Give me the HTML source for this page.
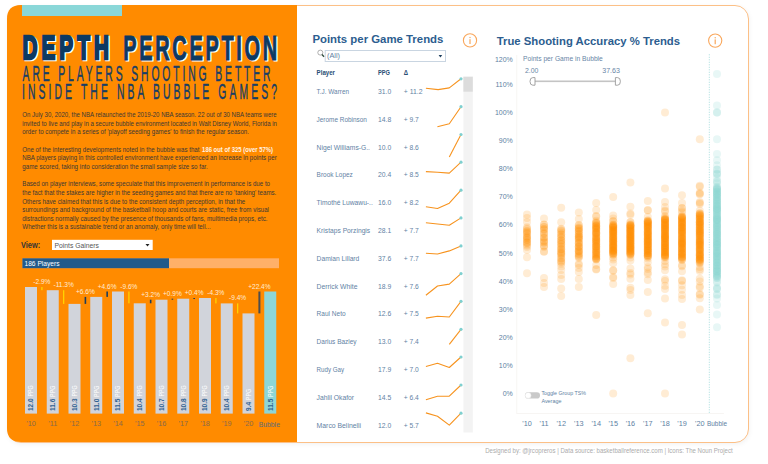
<!DOCTYPE html>
<html><head><meta charset="utf-8"><style>
html,body{margin:0;padding:0;width:768px;height:464px;overflow:hidden;background:#fff}
svg{display:block}
text{font-family:"Liberation Sans",sans-serif}
</style></head><body>
<svg width="768" height="464" viewBox="0 0 768 464">
<rect x="0" y="0" width="768" height="464" fill="#ffffff"/>
<defs><filter id="sh" x="-5%" y="-5%" width="110%" height="110%"><feGaussianBlur stdDeviation="2"/></filter></defs>
<rect x="7.5" y="6.5" width="742" height="438" rx="14" fill="#000" fill-opacity="0.05" filter="url(#sh)"/>
<rect x="7.5" y="5.5" width="741" height="437" rx="13.5" ry="13.5" fill="#ffffff" stroke="#FCC087" stroke-width="1"/>
<path d="M297 5 L21 5 Q7 5 7 19 L7 428 Q7 442 21 442 L297 442 Z" fill="#FF8B00"/>
<rect x="22" y="5" width="100" height="11" fill="#8AD7D8"/>
<g transform="translate(23.9,60.2) scale(0.61,1)"><text x="0" y="0" font-size="34" fill="#ffffff" font-weight="bold" stroke="#ffffff" stroke-width="2.6" stroke-linejoin="miter" textLength="141.80" lengthAdjust="spacing" >DEPTH</text></g>
<g transform="translate(124.7,61.1) scale(0.555,1)"><text x="0" y="0" font-size="36" fill="#ffffff" font-weight="bold" stroke="#ffffff" stroke-width="1.1" stroke-linejoin="miter" textLength="277.48" lengthAdjust="spacing" >PERCEPTION</text></g>
<g transform="translate(22.4,58.7) scale(0.61,1)"><text x="0" y="0" font-size="34" fill="#0D3A62" font-weight="bold" stroke="#0D3A62" stroke-width="2.6" stroke-linejoin="miter" textLength="141.80" lengthAdjust="spacing" >DEPTH</text></g>
<g transform="translate(123.2,59.6) scale(0.555,1)"><text x="0" y="0" font-size="36" fill="#0D3A62" font-weight="bold" stroke="#0D3A62" stroke-width="1.1" stroke-linejoin="miter" textLength="277.48" lengthAdjust="spacing" >PERCEPTION</text></g>
<g transform="translate(22.6,81.3) scale(0.48,1)"><text x="0" y="0" font-size="21.6" fill="#173E66" stroke="#173E66" stroke-width="0.45" stroke-linejoin="round" textLength="516.67" lengthAdjust="spacing" >ARE PLAYERS SHOOTING BETTER</text></g>
<g transform="translate(22,98.6) scale(0.48,1)"><text x="0" y="0" font-size="21.6" fill="#173E66" stroke="#173E66" stroke-width="0.45" stroke-linejoin="round" textLength="531.25" lengthAdjust="spacing" >INSIDE THE NBA BUBBLE GAMES?</text></g>
<text x="22.3" y="117.1" font-size="7.6" fill="#3A3836" textLength="254.4" lengthAdjust="spacingAndGlyphs" >On July 30, 2020, the NBA relaunched the 2019-20 NBA season. 22 out of 30 NBA teams were</text>
<text x="22.3" y="125.74" font-size="7.6" fill="#3A3836" textLength="254.7" lengthAdjust="spacingAndGlyphs" >invited to live and play in a secure bubble environment located in Walt Disney World, Florida in</text>
<text x="22.3" y="134.38" font-size="7.6" fill="#3A3836" textLength="226.7" lengthAdjust="spacingAndGlyphs" >order to compete in a series of 'playoff seeding games' to finish the regular season.</text>
<text x="22.3" y="160.3" font-size="7.6" fill="#3A3836" textLength="254.4" lengthAdjust="spacingAndGlyphs" >NBA players playing in this controlled environment have experienced an increase in points per</text>
<text x="22.3" y="168.94" font-size="7.6" fill="#3A3836" textLength="185.5" lengthAdjust="spacingAndGlyphs" >game scored, taking into consideration the small sample size so far.</text>
<text x="22.3" y="186.22" font-size="7.6" fill="#3A3836" textLength="247.7" lengthAdjust="spacingAndGlyphs" >Based on player interviews, some speculate that this improvement in performance is due to</text>
<text x="22.3" y="194.86" font-size="7.6" fill="#3A3836" textLength="254.0" lengthAdjust="spacingAndGlyphs" >the fact that the stakes are higher in the seeding games and that there are no 'tanking' teams.</text>
<text x="22.3" y="203.5" font-size="7.6" fill="#3A3836" textLength="223.0" lengthAdjust="spacingAndGlyphs" >Others have claimed that this is due to the consistent depth perception, in that the</text>
<text x="22.3" y="212.14" font-size="7.6" fill="#3A3836" textLength="246.7" lengthAdjust="spacingAndGlyphs" >surroundings and background of the basketball hoop and courts are static, free from visual</text>
<text x="22.3" y="220.78" font-size="7.6" fill="#3A3836" textLength="245.2" lengthAdjust="spacingAndGlyphs" >distractions normally caused by the presence of thousands of fans, multimedia props, etc.</text>
<text x="22.3" y="229.42" font-size="7.6" fill="#3A3836" textLength="188.4" lengthAdjust="spacingAndGlyphs" >Whether this is a sustainable trend or an anomaly, only time will tell...</text>
<text x="22.3" y="151.66" font-size="7.6" fill="#3A3836" textLength="177.2" lengthAdjust="spacingAndGlyphs" >One of the interesting developments noted in the bubble was that</text>
<text x="202.1" y="151.66" font-size="7.6" fill="#FFF3E6" font-weight="bold" textLength="71" lengthAdjust="spacingAndGlyphs" >186 out of 325 (over 57%)</text>
<text x="21" y="248.3" font-size="8.2" fill="#353535" font-weight="bold" textLength="19.2" lengthAdjust="spacingAndGlyphs" >View:</text>
<rect x="52" y="239.8" width="100.7" height="10.2" fill="#ffffff"/>
<text x="54.6" y="248" font-size="7.6" fill="#555555" textLength="44.3" lengthAdjust="spacingAndGlyphs" >Points Gainers</text>
<path d="M145.5 244 L149.5 244 L147.5 246.5 Z" fill="#222"/>
<rect x="22.4" y="258.3" width="256.6" height="9.9" fill="#FFB068"/>
<rect x="22.4" y="258.3" width="146.6" height="9.9" fill="#215A8A"/>
<text x="24.5" y="266" font-size="7.3" fill="#ffffff" textLength="35" lengthAdjust="spacingAndGlyphs" >186 Players</text>
<rect x="25.00" y="287" width="12" height="126.6" fill="#D1D4DB"/>
<g transform="translate(33.40,411) rotate(-90)"><text x="0" y="0" font-size="6.5" font-weight="bold" fill="#2F6192">12.0</text><text x="14.45" y="0" font-size="6.5" fill="#ffffff" textLength="11.3" lengthAdjust="spacingAndGlyphs">PPG</text></g>
<text x="31.0" y="425.8" font-size="7.3" fill="#8A6A4A" text-anchor="middle" >'10</text>
<rect x="46.75" y="290.2" width="12" height="123.4" fill="#D1D4DB"/>
<g transform="translate(55.15,411) rotate(-90)"><text x="0" y="0" font-size="6.5" font-weight="bold" fill="#2F6192">11.6</text><text x="14.09" y="0" font-size="6.5" fill="#ffffff" textLength="11.3" lengthAdjust="spacingAndGlyphs">PPG</text></g>
<text x="52.75" y="425.8" font-size="7.3" fill="#8A6A4A" text-anchor="middle" >'11</text>
<rect x="68.50" y="303.9" width="12" height="109.7" fill="#D1D4DB"/>
<g transform="translate(76.90,411) rotate(-90)"><text x="0" y="0" font-size="6.5" font-weight="bold" fill="#2F6192">10.3</text><text x="14.45" y="0" font-size="6.5" fill="#ffffff" textLength="11.3" lengthAdjust="spacingAndGlyphs">PPG</text></g>
<text x="74.5" y="425.8" font-size="7.3" fill="#8A6A4A" text-anchor="middle" >'12</text>
<rect x="90.25" y="296.9" width="12" height="116.7" fill="#D1D4DB"/>
<g transform="translate(98.65,411) rotate(-90)"><text x="0" y="0" font-size="6.5" font-weight="bold" fill="#2F6192">11.0</text><text x="14.09" y="0" font-size="6.5" fill="#ffffff" textLength="11.3" lengthAdjust="spacingAndGlyphs">PPG</text></g>
<text x="96.25" y="425.8" font-size="7.3" fill="#8A6A4A" text-anchor="middle" >'13</text>
<rect x="112.00" y="291.5" width="12" height="122.1" fill="#D1D4DB"/>
<g transform="translate(120.40,411) rotate(-90)"><text x="0" y="0" font-size="6.5" font-weight="bold" fill="#2F6192">11.5</text><text x="14.09" y="0" font-size="6.5" fill="#ffffff" textLength="11.3" lengthAdjust="spacingAndGlyphs">PPG</text></g>
<text x="118.0" y="425.8" font-size="7.3" fill="#8A6A4A" text-anchor="middle" >'14</text>
<rect x="133.75" y="303.3" width="12" height="110.3" fill="#D1D4DB"/>
<g transform="translate(142.15,411) rotate(-90)"><text x="0" y="0" font-size="6.5" font-weight="bold" fill="#2F6192">10.4</text><text x="14.45" y="0" font-size="6.5" fill="#ffffff" textLength="11.3" lengthAdjust="spacingAndGlyphs">PPG</text></g>
<text x="139.75" y="425.8" font-size="7.3" fill="#8A6A4A" text-anchor="middle" >'15</text>
<rect x="155.50" y="299.7" width="12" height="113.9" fill="#D1D4DB"/>
<g transform="translate(163.90,411) rotate(-90)"><text x="0" y="0" font-size="6.5" font-weight="bold" fill="#2F6192">10.7</text><text x="14.45" y="0" font-size="6.5" fill="#ffffff" textLength="11.3" lengthAdjust="spacingAndGlyphs">PPG</text></g>
<text x="161.5" y="425.8" font-size="7.3" fill="#8A6A4A" text-anchor="middle" >'16</text>
<rect x="177.25" y="298.7" width="12" height="114.9" fill="#D1D4DB"/>
<g transform="translate(185.65,411) rotate(-90)"><text x="0" y="0" font-size="6.5" font-weight="bold" fill="#2F6192">10.8</text><text x="14.45" y="0" font-size="6.5" fill="#ffffff" textLength="11.3" lengthAdjust="spacingAndGlyphs">PPG</text></g>
<text x="183.25" y="425.8" font-size="7.3" fill="#8A6A4A" text-anchor="middle" >'17</text>
<rect x="199.00" y="298" width="12" height="115.6" fill="#D1D4DB"/>
<g transform="translate(207.40,411) rotate(-90)"><text x="0" y="0" font-size="6.5" font-weight="bold" fill="#2F6192">10.9</text><text x="14.45" y="0" font-size="6.5" fill="#ffffff" textLength="11.3" lengthAdjust="spacingAndGlyphs">PPG</text></g>
<text x="205.0" y="425.8" font-size="7.3" fill="#8A6A4A" text-anchor="middle" >'18</text>
<rect x="220.75" y="303.4" width="12" height="110.2" fill="#D1D4DB"/>
<g transform="translate(229.15,411) rotate(-90)"><text x="0" y="0" font-size="6.5" font-weight="bold" fill="#2F6192">10.4</text><text x="14.45" y="0" font-size="6.5" fill="#ffffff" textLength="11.3" lengthAdjust="spacingAndGlyphs">PPG</text></g>
<text x="226.75" y="425.8" font-size="7.3" fill="#8A6A4A" text-anchor="middle" >'19</text>
<rect x="242.50" y="313.4" width="12" height="100.2" fill="#D1D4DB"/>
<g transform="translate(250.90,411) rotate(-90)"><text x="0" y="0" font-size="6.5" font-weight="bold" fill="#2F6192">9.4</text><text x="10.84" y="0" font-size="6.5" fill="#ffffff" textLength="11.3" lengthAdjust="spacingAndGlyphs">PPG</text></g>
<text x="248.5" y="425.8" font-size="7.3" fill="#8A6A4A" text-anchor="middle" >'20</text>
<rect x="264.25" y="291.5" width="12" height="122.1" fill="#8DD6D7"/>
<g transform="translate(272.65,411) rotate(-90)"><text x="0" y="0" font-size="6.5" font-weight="bold" fill="#2F6192">11.5</text><text x="14.09" y="0" font-size="6.5" fill="#ffffff" textLength="11.3" lengthAdjust="spacingAndGlyphs">PPG</text></g>
<text x="269.3" y="427.2" font-size="7.5" fill="#5A6B7D" textLength="21.3" lengthAdjust="spacingAndGlyphs" text-anchor="middle" >Bubble</text>
<rect x="41.25" y="287" width="1.3" height="3.2" fill="#FFD200"/>
<text x="41.9" y="284.0" font-size="7.6" fill="#FFEBD6" textLength="17.07" lengthAdjust="spacingAndGlyphs" text-anchor="middle" >-2.9%</text>
<rect x="63.00" y="290.2" width="1.3" height="13.7" fill="#FFD200"/>
<text x="63.65" y="287.2" font-size="7.6" fill="#FFEBD6" textLength="20.22" lengthAdjust="spacingAndGlyphs" text-anchor="middle" >-11.3%</text>
<rect x="84.60" y="296.9" width="1.6" height="7.0" fill="#1E3E5C"/>
<text x="85.4" y="293.9" font-size="7.6" fill="#FFEBD6" textLength="18.71" lengthAdjust="spacingAndGlyphs" text-anchor="middle" >+6.6%</text>
<rect x="106.35" y="291.5" width="1.6" height="5.4" fill="#1E3E5C"/>
<text x="107.15" y="288.5" font-size="7.6" fill="#FFEBD6" textLength="18.71" lengthAdjust="spacingAndGlyphs" text-anchor="middle" >+4.6%</text>
<rect x="128.25" y="291.5" width="1.3" height="11.8" fill="#FFD200"/>
<text x="128.9" y="288.5" font-size="7.6" fill="#FFEBD6" textLength="17.07" lengthAdjust="spacingAndGlyphs" text-anchor="middle" >-9.6%</text>
<rect x="149.85" y="299.7" width="1.6" height="3.6" fill="#1E3E5C"/>
<text x="150.65" y="296.7" font-size="7.6" fill="#FFEBD6" textLength="18.71" lengthAdjust="spacingAndGlyphs" text-anchor="middle" >+3.2%</text>
<rect x="171.60" y="298.7" width="1.6" height="1.0" fill="#1E3E5C"/>
<text x="172.4" y="295.7" font-size="7.6" fill="#FFEBD6" textLength="18.71" lengthAdjust="spacingAndGlyphs" text-anchor="middle" >+0.9%</text>
<rect x="193.35" y="298" width="1.6" height="1.0" fill="#1E3E5C"/>
<text x="194.15" y="295.0" font-size="7.6" fill="#FFEBD6" textLength="18.71" lengthAdjust="spacingAndGlyphs" text-anchor="middle" >+0.4%</text>
<rect x="215.25" y="298" width="1.3" height="5.4" fill="#FFD200"/>
<text x="215.9" y="295.0" font-size="7.6" fill="#FFEBD6" textLength="17.07" lengthAdjust="spacingAndGlyphs" text-anchor="middle" >-4.3%</text>
<rect x="237.00" y="303.4" width="1.3" height="10.0" fill="#FFD200"/>
<text x="237.65" y="300.4" font-size="7.6" fill="#FFEBD6" textLength="17.07" lengthAdjust="spacingAndGlyphs" text-anchor="middle" >-9.4%</text>
<rect x="258.40" y="291.5" width="2" height="21.9" fill="#4D4D4D"/>
<text x="259.4" y="288.5" font-size="7.6" fill="#FFEBD6" textLength="22.35" lengthAdjust="spacingAndGlyphs" text-anchor="middle" >+22.4%</text>
<text x="312.4" y="42.6" font-size="11.8" fill="#2C5D8F" font-weight="bold" textLength="131" lengthAdjust="spacingAndGlyphs" >Points per Game Trends</text>
<circle cx="470" cy="40.4" r="6.6" fill="none" stroke="#F9A75C" stroke-width="1.1"/>
<circle cx="470" cy="37.5" r="0.7" fill="#F9A75C"/><rect x="469.4" y="39.2" width="1.2" height="4.8" fill="#F9A75C"/>
<circle cx="720" cy="40.4" r="0" />
<rect x="325.2" y="50.5" width="120.3" height="11" fill="#fff" stroke="#C9D5E1" stroke-width="1"/>
<circle cx="320.3" cy="52.6" r="2.5" fill="none" stroke="#9a9a9a" stroke-width="0.8"/><path d="M322 54.5 L324 56.8" stroke="#2d4a3a" stroke-width="1.3"/>
<text x="327" y="58.4" font-size="7.6" fill="#5F80A2" textLength="13" lengthAdjust="spacingAndGlyphs" >(All)</text>
<path d="M438.6 55 L442.2 55 L440.4 57.4 Z" fill="#1D3E5E"/>
<text x="316.6" y="75.3" font-size="6.8" fill="#2A4E74" font-weight="bold" textLength="18.4" lengthAdjust="spacingAndGlyphs" >Player</text>
<text x="378" y="75.3" font-size="6.8" fill="#2A4E74" font-weight="bold" textLength="12" lengthAdjust="spacingAndGlyphs" >PPG</text>
<text x="403.8" y="75.3" font-size="6.8" fill="#2A4E74" font-weight="bold" textLength="4.3" lengthAdjust="spacingAndGlyphs" >Δ</text>
<text x="316.6" y="94.0" font-size="7.6" fill="#6282A4" textLength="32.4" lengthAdjust="spacingAndGlyphs" >T.J. Warren</text>
<text x="378" y="94.0" font-size="7.6" fill="#6282A4" textLength="13.2" lengthAdjust="spacingAndGlyphs" >31.0</text>
<text x="403.8" y="94.0" font-size="7.6" fill="#6282A4" textLength="18.7" lengthAdjust="spacingAndGlyphs" >+ 11.2</text>
<text x="316.6" y="121.8" font-size="7.6" fill="#6282A4" textLength="50.3" lengthAdjust="spacingAndGlyphs" >Jerome Robinson</text>
<text x="378" y="121.8" font-size="7.6" fill="#6282A4" textLength="13.2" lengthAdjust="spacingAndGlyphs" >14.8</text>
<text x="403.8" y="121.8" font-size="7.6" fill="#6282A4" textLength="15" lengthAdjust="spacingAndGlyphs" >+ 9.7</text>
<text x="316.6" y="149.6" font-size="7.6" fill="#6282A4" textLength="53.4" lengthAdjust="spacingAndGlyphs" >Nigel Williams-G..</text>
<text x="378" y="149.6" font-size="7.6" fill="#6282A4" textLength="13.2" lengthAdjust="spacingAndGlyphs" >10.0</text>
<text x="403.8" y="149.6" font-size="7.6" fill="#6282A4" textLength="15" lengthAdjust="spacingAndGlyphs" >+ 8.6</text>
<text x="316.6" y="177.4" font-size="7.6" fill="#6282A4" textLength="36.2" lengthAdjust="spacingAndGlyphs" >Brook Lopez</text>
<text x="378" y="177.4" font-size="7.6" fill="#6282A4" textLength="13.2" lengthAdjust="spacingAndGlyphs" >20.4</text>
<text x="403.8" y="177.4" font-size="7.6" fill="#6282A4" textLength="15" lengthAdjust="spacingAndGlyphs" >+ 8.5</text>
<text x="316.6" y="205.2" font-size="7.6" fill="#6282A4" textLength="56.2" lengthAdjust="spacingAndGlyphs" >Timothé Luwawu-..</text>
<text x="378" y="205.2" font-size="7.6" fill="#6282A4" textLength="13.2" lengthAdjust="spacingAndGlyphs" >16.0</text>
<text x="403.8" y="205.2" font-size="7.6" fill="#6282A4" textLength="15" lengthAdjust="spacingAndGlyphs" >+ 8.2</text>
<text x="316.6" y="233.0" font-size="7.6" fill="#6282A4" textLength="53.6" lengthAdjust="spacingAndGlyphs" >Kristaps Porzingis</text>
<text x="378" y="233.0" font-size="7.6" fill="#6282A4" textLength="13.2" lengthAdjust="spacingAndGlyphs" >28.1</text>
<text x="403.8" y="233.0" font-size="7.6" fill="#6282A4" textLength="15" lengthAdjust="spacingAndGlyphs" >+ 7.7</text>
<text x="316.6" y="260.8" font-size="7.6" fill="#6282A4" textLength="42.7" lengthAdjust="spacingAndGlyphs" >Damian Lillard</text>
<text x="378" y="260.8" font-size="7.6" fill="#6282A4" textLength="13.2" lengthAdjust="spacingAndGlyphs" >37.6</text>
<text x="403.8" y="260.8" font-size="7.6" fill="#6282A4" textLength="15" lengthAdjust="spacingAndGlyphs" >+ 7.7</text>
<text x="316.6" y="288.6" font-size="7.6" fill="#6282A4" textLength="40.9" lengthAdjust="spacingAndGlyphs" >Derrick White</text>
<text x="378" y="288.6" font-size="7.6" fill="#6282A4" textLength="13.2" lengthAdjust="spacingAndGlyphs" >18.9</text>
<text x="403.8" y="288.6" font-size="7.6" fill="#6282A4" textLength="15" lengthAdjust="spacingAndGlyphs" >+ 7.6</text>
<text x="316.6" y="316.4" font-size="7.6" fill="#6282A4" textLength="29" lengthAdjust="spacingAndGlyphs" >Raul Neto</text>
<text x="378" y="316.4" font-size="7.6" fill="#6282A4" textLength="13.2" lengthAdjust="spacingAndGlyphs" >12.6</text>
<text x="403.8" y="316.4" font-size="7.6" fill="#6282A4" textLength="15" lengthAdjust="spacingAndGlyphs" >+ 7.5</text>
<text x="316.6" y="344.2" font-size="7.6" fill="#6282A4" textLength="40" lengthAdjust="spacingAndGlyphs" >Darius Bazley</text>
<text x="378" y="344.2" font-size="7.6" fill="#6282A4" textLength="13.2" lengthAdjust="spacingAndGlyphs" >13.0</text>
<text x="403.8" y="344.2" font-size="7.6" fill="#6282A4" textLength="15" lengthAdjust="spacingAndGlyphs" >+ 7.4</text>
<text x="316.6" y="372.0" font-size="7.6" fill="#6282A4" textLength="27.5" lengthAdjust="spacingAndGlyphs" >Rudy Gay</text>
<text x="378" y="372.0" font-size="7.6" fill="#6282A4" textLength="13.2" lengthAdjust="spacingAndGlyphs" >17.9</text>
<text x="403.8" y="372.0" font-size="7.6" fill="#6282A4" textLength="15" lengthAdjust="spacingAndGlyphs" >+ 7.0</text>
<text x="316.6" y="399.8" font-size="7.6" fill="#6282A4" textLength="37.5" lengthAdjust="spacingAndGlyphs" >Jahlil Okafor</text>
<text x="378" y="399.8" font-size="7.6" fill="#6282A4" textLength="13.2" lengthAdjust="spacingAndGlyphs" >14.5</text>
<text x="403.8" y="399.8" font-size="7.6" fill="#6282A4" textLength="15" lengthAdjust="spacingAndGlyphs" >+ 6.4</text>
<text x="316.6" y="427.6" font-size="7.6" fill="#6282A4" textLength="44.5" lengthAdjust="spacingAndGlyphs" >Marco Belinelli</text>
<text x="378" y="427.6" font-size="7.6" fill="#6282A4" textLength="13.2" lengthAdjust="spacingAndGlyphs" >12.0</text>
<text x="403.8" y="427.6" font-size="7.6" fill="#6282A4" textLength="15" lengthAdjust="spacingAndGlyphs" >+ 5.7</text>
<path d="M425.9,88.2 L438.1,89.6 L449.3,87.9 L461,78.8" fill="none" stroke="#F7931E" stroke-width="1.1" stroke-linejoin="round"/>
<circle cx="461" cy="78.8" r="1.6" fill="#7FD0D0"/>
<path d="M437.4,126.7 L449.3,123.7 L461,106.7" fill="none" stroke="#F7931E" stroke-width="1.1" stroke-linejoin="round"/>
<circle cx="461" cy="106.7" r="1.6" fill="#7FD0D0"/>
<path d="M449.3,156.9 L461,134.5" fill="none" stroke="#F7931E" stroke-width="1.1" stroke-linejoin="round"/>
<circle cx="461" cy="134.5" r="1.6" fill="#7FD0D0"/>
<path d="M425.9,171.6 L437.5,172.3 L449.3,173.1 L461,162.2" fill="none" stroke="#F7931E" stroke-width="1.1" stroke-linejoin="round"/>
<circle cx="461" cy="162.2" r="1.6" fill="#7FD0D0"/>
<path d="M425.9,206.7 L437.5,208.5 L449.3,203.2 L461,190.2" fill="none" stroke="#F7931E" stroke-width="1.1" stroke-linejoin="round"/>
<circle cx="461" cy="190.2" r="1.6" fill="#7FD0D0"/>
<path d="M425.9,222.8 L437.5,224 L449.3,225.3 L461,217.9" fill="none" stroke="#F7931E" stroke-width="1.1" stroke-linejoin="round"/>
<circle cx="461" cy="217.9" r="1.6" fill="#7FD0D0"/>
<path d="M425.9,253.3 L437.5,254 L449.3,250.9 L461,245.9" fill="none" stroke="#F7931E" stroke-width="1.1" stroke-linejoin="round"/>
<circle cx="461" cy="245.9" r="1.6" fill="#7FD0D0"/>
<path d="M425.9,295.3 L437.5,286 L449.3,284.1 L461,273.6" fill="none" stroke="#F7931E" stroke-width="1.1" stroke-linejoin="round"/>
<circle cx="461" cy="273.6" r="1.6" fill="#7FD0D0"/>
<path d="M425.9,318.1 L437.5,316.3 L449.3,317 L461,301.3" fill="none" stroke="#F7931E" stroke-width="1.1" stroke-linejoin="round"/>
<circle cx="461" cy="301.3" r="1.6" fill="#7FD0D0"/>
<path d="M449.3,344.3 L461,329.3" fill="none" stroke="#F7931E" stroke-width="1.1" stroke-linejoin="round"/>
<circle cx="461" cy="329.3" r="1.6" fill="#7FD0D0"/>
<path d="M425.9,366.5 L437.5,363.3 L449.3,367.5 L461,357" fill="none" stroke="#F7931E" stroke-width="1.1" stroke-linejoin="round"/>
<circle cx="461" cy="357" r="1.6" fill="#7FD0D0"/>
<path d="M425.9,399.7 L437.5,396.2 L449.3,396.2 L461,385" fill="none" stroke="#F7931E" stroke-width="1.1" stroke-linejoin="round"/>
<circle cx="461" cy="385" r="1.6" fill="#7FD0D0"/>
<path d="M425.9,412.9 L437.5,416.3 L449.3,425.1 L461,413.2" fill="none" stroke="#F7931E" stroke-width="1.1" stroke-linejoin="round"/>
<circle cx="461" cy="413.2" r="1.6" fill="#7FD0D0"/>
<rect x="463.4" y="76.7" width="9.4" height="355.8" fill="#F3F3F3"/>
<rect x="463.4" y="76.7" width="9.4" height="15" fill="#DCDCDC"/>
<text x="496.7" y="44.7" font-size="11.8" fill="#2C5D8F" font-weight="bold" textLength="183.4" lengthAdjust="spacingAndGlyphs" >True Shooting Accuracy % Trends</text>
<circle cx="715.2" cy="40.6" r="6.6" fill="none" stroke="#F9A75C" stroke-width="1.1"/>
<circle cx="715.2" cy="37.7" r="0.7" fill="#F9A75C"/><rect x="714.6" y="39.4" width="1.2" height="4.8" fill="#F9A75C"/>
<rect x="516.4" y="55" width="0.8" height="358.4" fill="#F6F3F0"/>
<rect x="516.4" y="413" width="207.5" height="0.8" fill="#F6F3F0"/>
<text x="512.8" y="396.1" font-size="7" fill="#5E7FA3" text-anchor="end" >0%</text>
<text x="512.8" y="367.98" font-size="7" fill="#5E7FA3" text-anchor="end" >10%</text>
<text x="512.8" y="339.86" font-size="7" fill="#5E7FA3" text-anchor="end" >20%</text>
<text x="512.8" y="311.74" font-size="7" fill="#5E7FA3" text-anchor="end" >30%</text>
<text x="512.8" y="283.62" font-size="7" fill="#5E7FA3" text-anchor="end" >40%</text>
<text x="512.8" y="255.5" font-size="7" fill="#5E7FA3" text-anchor="end" >50%</text>
<text x="512.8" y="227.38" font-size="7" fill="#5E7FA3" text-anchor="end" >60%</text>
<text x="512.8" y="199.26" font-size="7" fill="#5E7FA3" text-anchor="end" >70%</text>
<text x="512.8" y="171.14" font-size="7" fill="#5E7FA3" text-anchor="end" >80%</text>
<text x="512.8" y="143.02" font-size="7" fill="#5E7FA3" text-anchor="end" >90%</text>
<text x="512.8" y="114.9" font-size="7" fill="#5E7FA3" text-anchor="end" >100%</text>
<text x="512.8" y="86.78" font-size="7" fill="#5E7FA3" text-anchor="end" >110%</text>
<text x="512.8" y="62.0" font-size="7" fill="#5E7FA3" text-anchor="end" >120%</text>
<circle cx="527" cy="227.2" r="4" fill="#FF8C00" fill-opacity="0.17"/>
<circle cx="527" cy="228.5" r="4" fill="#FF8C00" fill-opacity="0.17"/>
<circle cx="527" cy="229.6" r="4" fill="#FF8C00" fill-opacity="0.17"/>
<circle cx="527" cy="230.9" r="4" fill="#FF8C00" fill-opacity="0.17"/>
<circle cx="527" cy="231.6" r="4" fill="#FF8C00" fill-opacity="0.17"/>
<circle cx="527" cy="233.0" r="4" fill="#FF8C00" fill-opacity="0.17"/>
<circle cx="527" cy="232.4" r="4" fill="#FF8C00" fill-opacity="0.17"/>
<circle cx="527" cy="234.2" r="4" fill="#FF8C00" fill-opacity="0.17"/>
<circle cx="527" cy="236.2" r="4" fill="#FF8C00" fill-opacity="0.17"/>
<circle cx="527" cy="236.7" r="4" fill="#FF8C00" fill-opacity="0.17"/>
<circle cx="527" cy="238.2" r="4" fill="#FF8C00" fill-opacity="0.17"/>
<circle cx="527" cy="237.8" r="4" fill="#FF8C00" fill-opacity="0.17"/>
<circle cx="527" cy="239.5" r="4" fill="#FF8C00" fill-opacity="0.17"/>
<circle cx="527" cy="240.1" r="4" fill="#FF8C00" fill-opacity="0.17"/>
<circle cx="527" cy="241.7" r="4" fill="#FF8C00" fill-opacity="0.17"/>
<circle cx="527" cy="242.8" r="4" fill="#FF8C00" fill-opacity="0.17"/>
<circle cx="527" cy="242.8" r="4" fill="#FF8C00" fill-opacity="0.17"/>
<circle cx="527" cy="244.3" r="4" fill="#FF8C00" fill-opacity="0.17"/>
<circle cx="527" cy="245.4" r="4" fill="#FF8C00" fill-opacity="0.17"/>
<circle cx="527" cy="247.0" r="4" fill="#FF8C00" fill-opacity="0.17"/>
<circle cx="527" cy="214.5" r="4" fill="#FF8C00" fill-opacity="0.17"/>
<circle cx="527" cy="218.0" r="4" fill="#FF8C00" fill-opacity="0.17"/>
<circle cx="527" cy="222.0" r="4" fill="#FF8C00" fill-opacity="0.17"/>
<circle cx="527" cy="250.0" r="4" fill="#FF8C00" fill-opacity="0.17"/>
<circle cx="527" cy="257.2" r="4" fill="#FF8C00" fill-opacity="0.17"/>
<circle cx="527" cy="273.3" r="4" fill="#FF8C00" fill-opacity="0.17"/>
<circle cx="544" cy="224.7" r="4" fill="#FF8C00" fill-opacity="0.17"/>
<circle cx="544" cy="224.5" r="4" fill="#FF8C00" fill-opacity="0.17"/>
<circle cx="544" cy="227.1" r="4" fill="#FF8C00" fill-opacity="0.17"/>
<circle cx="544" cy="226.9" r="4" fill="#FF8C00" fill-opacity="0.17"/>
<circle cx="544" cy="229.1" r="4" fill="#FF8C00" fill-opacity="0.17"/>
<circle cx="544" cy="229.3" r="4" fill="#FF8C00" fill-opacity="0.17"/>
<circle cx="544" cy="230.2" r="4" fill="#FF8C00" fill-opacity="0.17"/>
<circle cx="544" cy="233.3" r="4" fill="#FF8C00" fill-opacity="0.17"/>
<circle cx="544" cy="233.1" r="4" fill="#FF8C00" fill-opacity="0.17"/>
<circle cx="544" cy="234.3" r="4" fill="#FF8C00" fill-opacity="0.17"/>
<circle cx="544" cy="237.1" r="4" fill="#FF8C00" fill-opacity="0.17"/>
<circle cx="544" cy="238.1" r="4" fill="#FF8C00" fill-opacity="0.17"/>
<circle cx="544" cy="238.0" r="4" fill="#FF8C00" fill-opacity="0.17"/>
<circle cx="544" cy="240.7" r="4" fill="#FF8C00" fill-opacity="0.17"/>
<circle cx="544" cy="241.0" r="4" fill="#FF8C00" fill-opacity="0.17"/>
<circle cx="544" cy="242.5" r="4" fill="#FF8C00" fill-opacity="0.17"/>
<circle cx="544" cy="242.6" r="4" fill="#FF8C00" fill-opacity="0.17"/>
<circle cx="544" cy="245.4" r="4" fill="#FF8C00" fill-opacity="0.17"/>
<circle cx="544" cy="246.1" r="4" fill="#FF8C00" fill-opacity="0.17"/>
<circle cx="544" cy="247.0" r="4" fill="#FF8C00" fill-opacity="0.17"/>
<circle cx="544" cy="251.8" r="4" fill="#FF8C00" fill-opacity="0.17"/>
<circle cx="544" cy="251.6" r="4" fill="#FF8C00" fill-opacity="0.17"/>
<circle cx="544" cy="218.4" r="4" fill="#FF8C00" fill-opacity="0.17"/>
<circle cx="544" cy="278.0" r="4" fill="#FF8C00" fill-opacity="0.17"/>
<circle cx="544" cy="283.0" r="4" fill="#FF8C00" fill-opacity="0.17"/>
<circle cx="544" cy="287.0" r="4" fill="#FF8C00" fill-opacity="0.17"/>
<circle cx="561.2" cy="228.7" r="4" fill="#FF8C00" fill-opacity="0.17"/>
<circle cx="561.2" cy="229.4" r="4" fill="#FF8C00" fill-opacity="0.17"/>
<circle cx="561.2" cy="230.4" r="4" fill="#FF8C00" fill-opacity="0.17"/>
<circle cx="561.2" cy="231.3" r="4" fill="#FF8C00" fill-opacity="0.17"/>
<circle cx="561.2" cy="232.8" r="4" fill="#FF8C00" fill-opacity="0.17"/>
<circle cx="561.2" cy="234.5" r="4" fill="#FF8C00" fill-opacity="0.17"/>
<circle cx="561.2" cy="234.4" r="4" fill="#FF8C00" fill-opacity="0.17"/>
<circle cx="561.2" cy="236.7" r="4" fill="#FF8C00" fill-opacity="0.17"/>
<circle cx="561.2" cy="237.1" r="4" fill="#FF8C00" fill-opacity="0.17"/>
<circle cx="561.2" cy="238.2" r="4" fill="#FF8C00" fill-opacity="0.17"/>
<circle cx="561.2" cy="240.2" r="4" fill="#FF8C00" fill-opacity="0.17"/>
<circle cx="561.2" cy="240.6" r="4" fill="#FF8C00" fill-opacity="0.17"/>
<circle cx="561.2" cy="241.4" r="4" fill="#FF8C00" fill-opacity="0.17"/>
<circle cx="561.2" cy="242.7" r="4" fill="#FF8C00" fill-opacity="0.17"/>
<circle cx="561.2" cy="244.2" r="4" fill="#FF8C00" fill-opacity="0.17"/>
<circle cx="561.2" cy="244.0" r="4" fill="#FF8C00" fill-opacity="0.17"/>
<circle cx="561.2" cy="246.9" r="4" fill="#FF8C00" fill-opacity="0.17"/>
<circle cx="561.2" cy="246.1" r="4" fill="#FF8C00" fill-opacity="0.17"/>
<circle cx="561.2" cy="248.6" r="4" fill="#FF8C00" fill-opacity="0.17"/>
<circle cx="561.2" cy="249.8" r="4" fill="#FF8C00" fill-opacity="0.17"/>
<circle cx="561.2" cy="249.3" r="4" fill="#FF8C00" fill-opacity="0.17"/>
<circle cx="561.2" cy="251.8" r="4" fill="#FF8C00" fill-opacity="0.17"/>
<circle cx="561.2" cy="252.1" r="4" fill="#FF8C00" fill-opacity="0.17"/>
<circle cx="561.2" cy="253.5" r="4" fill="#FF8C00" fill-opacity="0.17"/>
<circle cx="561.2" cy="253.5" r="4" fill="#FF8C00" fill-opacity="0.17"/>
<circle cx="561.2" cy="254.7" r="4" fill="#FF8C00" fill-opacity="0.17"/>
<circle cx="561.2" cy="256.0" r="4" fill="#FF8C00" fill-opacity="0.17"/>
<circle cx="561.2" cy="258.5" r="4" fill="#FF8C00" fill-opacity="0.17"/>
<circle cx="561.2" cy="258.1" r="4" fill="#FF8C00" fill-opacity="0.17"/>
<circle cx="561.2" cy="260.3" r="4" fill="#FF8C00" fill-opacity="0.17"/>
<circle cx="561.2" cy="261.7" r="4" fill="#FF8C00" fill-opacity="0.17"/>
<circle cx="561.2" cy="262.0" r="4" fill="#FF8C00" fill-opacity="0.17"/>
<circle cx="561.2" cy="263.7" r="4" fill="#FF8C00" fill-opacity="0.17"/>
<circle cx="561.2" cy="266.4" r="4" fill="#FF8C00" fill-opacity="0.17"/>
<circle cx="561.2" cy="269.9" r="4" fill="#FF8C00" fill-opacity="0.17"/>
<circle cx="561.2" cy="207.8" r="4" fill="#FF8C00" fill-opacity="0.17"/>
<circle cx="561.2" cy="222.3" r="4" fill="#FF8C00" fill-opacity="0.17"/>
<circle cx="561.2" cy="275.0" r="4" fill="#FF8C00" fill-opacity="0.17"/>
<circle cx="561.2" cy="279.0" r="4" fill="#FF8C00" fill-opacity="0.17"/>
<circle cx="561.2" cy="288.6" r="4" fill="#FF8C00" fill-opacity="0.17"/>
<circle cx="561.2" cy="296.0" r="4" fill="#FF8C00" fill-opacity="0.17"/>
<circle cx="578.8" cy="225.2" r="4" fill="#FF8C00" fill-opacity="0.17"/>
<circle cx="578.8" cy="225.1" r="4" fill="#FF8C00" fill-opacity="0.17"/>
<circle cx="578.8" cy="227.0" r="4" fill="#FF8C00" fill-opacity="0.17"/>
<circle cx="578.8" cy="228.0" r="4" fill="#FF8C00" fill-opacity="0.17"/>
<circle cx="578.8" cy="229.0" r="4" fill="#FF8C00" fill-opacity="0.17"/>
<circle cx="578.8" cy="228.5" r="4" fill="#FF8C00" fill-opacity="0.17"/>
<circle cx="578.8" cy="230.9" r="4" fill="#FF8C00" fill-opacity="0.17"/>
<circle cx="578.8" cy="230.4" r="4" fill="#FF8C00" fill-opacity="0.17"/>
<circle cx="578.8" cy="231.7" r="4" fill="#FF8C00" fill-opacity="0.17"/>
<circle cx="578.8" cy="233.0" r="4" fill="#FF8C00" fill-opacity="0.17"/>
<circle cx="578.8" cy="234.4" r="4" fill="#FF8C00" fill-opacity="0.17"/>
<circle cx="578.8" cy="234.4" r="4" fill="#FF8C00" fill-opacity="0.17"/>
<circle cx="578.8" cy="236.2" r="4" fill="#FF8C00" fill-opacity="0.17"/>
<circle cx="578.8" cy="236.5" r="4" fill="#FF8C00" fill-opacity="0.17"/>
<circle cx="578.8" cy="237.0" r="4" fill="#FF8C00" fill-opacity="0.17"/>
<circle cx="578.8" cy="237.9" r="4" fill="#FF8C00" fill-opacity="0.17"/>
<circle cx="578.8" cy="238.6" r="4" fill="#FF8C00" fill-opacity="0.17"/>
<circle cx="578.8" cy="239.3" r="4" fill="#FF8C00" fill-opacity="0.17"/>
<circle cx="578.8" cy="240.3" r="4" fill="#FF8C00" fill-opacity="0.17"/>
<circle cx="578.8" cy="242.1" r="4" fill="#FF8C00" fill-opacity="0.17"/>
<circle cx="578.8" cy="243.5" r="4" fill="#FF8C00" fill-opacity="0.17"/>
<circle cx="578.8" cy="243.0" r="4" fill="#FF8C00" fill-opacity="0.17"/>
<circle cx="578.8" cy="243.8" r="4" fill="#FF8C00" fill-opacity="0.17"/>
<circle cx="578.8" cy="246.2" r="4" fill="#FF8C00" fill-opacity="0.17"/>
<circle cx="578.8" cy="246.3" r="4" fill="#FF8C00" fill-opacity="0.17"/>
<circle cx="578.8" cy="247.0" r="4" fill="#FF8C00" fill-opacity="0.17"/>
<circle cx="578.8" cy="247.6" r="4" fill="#FF8C00" fill-opacity="0.17"/>
<circle cx="578.8" cy="249.1" r="4" fill="#FF8C00" fill-opacity="0.17"/>
<circle cx="578.8" cy="250.4" r="4" fill="#FF8C00" fill-opacity="0.17"/>
<circle cx="578.8" cy="250.7" r="4" fill="#FF8C00" fill-opacity="0.17"/>
<circle cx="578.8" cy="251.5" r="4" fill="#FF8C00" fill-opacity="0.17"/>
<circle cx="578.8" cy="251.8" r="4" fill="#FF8C00" fill-opacity="0.17"/>
<circle cx="578.8" cy="254.1" r="4" fill="#FF8C00" fill-opacity="0.17"/>
<circle cx="578.8" cy="253.6" r="4" fill="#FF8C00" fill-opacity="0.17"/>
<circle cx="578.8" cy="255.2" r="4" fill="#FF8C00" fill-opacity="0.17"/>
<circle cx="578.8" cy="256.7" r="4" fill="#FF8C00" fill-opacity="0.17"/>
<circle cx="578.8" cy="256.4" r="4" fill="#FF8C00" fill-opacity="0.17"/>
<circle cx="578.8" cy="258.0" r="4" fill="#FF8C00" fill-opacity="0.17"/>
<circle cx="578.8" cy="263.7" r="4" fill="#FF8C00" fill-opacity="0.17"/>
<circle cx="578.8" cy="265.1" r="4" fill="#FF8C00" fill-opacity="0.17"/>
<circle cx="578.8" cy="268.0" r="4" fill="#FF8C00" fill-opacity="0.17"/>
<circle cx="578.8" cy="212.6" r="4" fill="#FF8C00" fill-opacity="0.17"/>
<circle cx="578.8" cy="219.0" r="4" fill="#FF8C00" fill-opacity="0.17"/>
<circle cx="578.8" cy="272.0" r="4" fill="#FF8C00" fill-opacity="0.17"/>
<circle cx="578.8" cy="279.0" r="4" fill="#FF8C00" fill-opacity="0.17"/>
<circle cx="578.8" cy="287.0" r="4" fill="#FF8C00" fill-opacity="0.17"/>
<circle cx="596.2" cy="216.5" r="4" fill="#FF8C00" fill-opacity="0.17"/>
<circle cx="596.2" cy="220.8" r="4" fill="#FF8C00" fill-opacity="0.17"/>
<circle cx="596.2" cy="222.0" r="4" fill="#FF8C00" fill-opacity="0.17"/>
<circle cx="596.2" cy="223.0" r="4" fill="#FF8C00" fill-opacity="0.17"/>
<circle cx="596.2" cy="223.0" r="4" fill="#FF8C00" fill-opacity="0.17"/>
<circle cx="596.2" cy="223.8" r="4" fill="#FF8C00" fill-opacity="0.17"/>
<circle cx="596.2" cy="225.0" r="4" fill="#FF8C00" fill-opacity="0.17"/>
<circle cx="596.2" cy="225.5" r="4" fill="#FF8C00" fill-opacity="0.17"/>
<circle cx="596.2" cy="226.3" r="4" fill="#FF8C00" fill-opacity="0.17"/>
<circle cx="596.2" cy="226.3" r="4" fill="#FF8C00" fill-opacity="0.17"/>
<circle cx="596.2" cy="227.0" r="4" fill="#FF8C00" fill-opacity="0.17"/>
<circle cx="596.2" cy="227.9" r="4" fill="#FF8C00" fill-opacity="0.17"/>
<circle cx="596.2" cy="228.2" r="4" fill="#FF8C00" fill-opacity="0.17"/>
<circle cx="596.2" cy="228.7" r="4" fill="#FF8C00" fill-opacity="0.17"/>
<circle cx="596.2" cy="229.4" r="4" fill="#FF8C00" fill-opacity="0.17"/>
<circle cx="596.2" cy="229.8" r="4" fill="#FF8C00" fill-opacity="0.17"/>
<circle cx="596.2" cy="230.7" r="4" fill="#FF8C00" fill-opacity="0.17"/>
<circle cx="596.2" cy="232.0" r="4" fill="#FF8C00" fill-opacity="0.17"/>
<circle cx="596.2" cy="232.6" r="4" fill="#FF8C00" fill-opacity="0.17"/>
<circle cx="596.2" cy="232.8" r="4" fill="#FF8C00" fill-opacity="0.17"/>
<circle cx="596.2" cy="233.3" r="4" fill="#FF8C00" fill-opacity="0.17"/>
<circle cx="596.2" cy="233.8" r="4" fill="#FF8C00" fill-opacity="0.17"/>
<circle cx="596.2" cy="234.1" r="4" fill="#FF8C00" fill-opacity="0.17"/>
<circle cx="596.2" cy="235.0" r="4" fill="#FF8C00" fill-opacity="0.17"/>
<circle cx="596.2" cy="236.2" r="4" fill="#FF8C00" fill-opacity="0.17"/>
<circle cx="596.2" cy="236.9" r="4" fill="#FF8C00" fill-opacity="0.17"/>
<circle cx="596.2" cy="237.0" r="4" fill="#FF8C00" fill-opacity="0.17"/>
<circle cx="596.2" cy="238.1" r="4" fill="#FF8C00" fill-opacity="0.17"/>
<circle cx="596.2" cy="238.7" r="4" fill="#FF8C00" fill-opacity="0.17"/>
<circle cx="596.2" cy="239.3" r="4" fill="#FF8C00" fill-opacity="0.17"/>
<circle cx="596.2" cy="239.9" r="4" fill="#FF8C00" fill-opacity="0.17"/>
<circle cx="596.2" cy="240.6" r="4" fill="#FF8C00" fill-opacity="0.17"/>
<circle cx="596.2" cy="240.8" r="4" fill="#FF8C00" fill-opacity="0.17"/>
<circle cx="596.2" cy="241.8" r="4" fill="#FF8C00" fill-opacity="0.17"/>
<circle cx="596.2" cy="242.0" r="4" fill="#FF8C00" fill-opacity="0.17"/>
<circle cx="596.2" cy="242.8" r="4" fill="#FF8C00" fill-opacity="0.17"/>
<circle cx="596.2" cy="243.8" r="4" fill="#FF8C00" fill-opacity="0.17"/>
<circle cx="596.2" cy="244.3" r="4" fill="#FF8C00" fill-opacity="0.17"/>
<circle cx="596.2" cy="244.5" r="4" fill="#FF8C00" fill-opacity="0.17"/>
<circle cx="596.2" cy="245.9" r="4" fill="#FF8C00" fill-opacity="0.17"/>
<circle cx="596.2" cy="246.2" r="4" fill="#FF8C00" fill-opacity="0.17"/>
<circle cx="596.2" cy="246.7" r="4" fill="#FF8C00" fill-opacity="0.17"/>
<circle cx="596.2" cy="246.7" r="4" fill="#FF8C00" fill-opacity="0.17"/>
<circle cx="596.2" cy="248.0" r="4" fill="#FF8C00" fill-opacity="0.17"/>
<circle cx="596.2" cy="248.3" r="4" fill="#FF8C00" fill-opacity="0.17"/>
<circle cx="596.2" cy="249.4" r="4" fill="#FF8C00" fill-opacity="0.17"/>
<circle cx="596.2" cy="249.8" r="4" fill="#FF8C00" fill-opacity="0.17"/>
<circle cx="596.2" cy="250.8" r="4" fill="#FF8C00" fill-opacity="0.17"/>
<circle cx="596.2" cy="251.2" r="4" fill="#FF8C00" fill-opacity="0.17"/>
<circle cx="596.2" cy="252.0" r="4" fill="#FF8C00" fill-opacity="0.17"/>
<circle cx="596.2" cy="252.2" r="4" fill="#FF8C00" fill-opacity="0.17"/>
<circle cx="596.2" cy="253.1" r="4" fill="#FF8C00" fill-opacity="0.17"/>
<circle cx="596.2" cy="253.9" r="4" fill="#FF8C00" fill-opacity="0.17"/>
<circle cx="596.2" cy="254.6" r="4" fill="#FF8C00" fill-opacity="0.17"/>
<circle cx="596.2" cy="254.7" r="4" fill="#FF8C00" fill-opacity="0.17"/>
<circle cx="596.2" cy="255.9" r="4" fill="#FF8C00" fill-opacity="0.17"/>
<circle cx="596.2" cy="256.6" r="4" fill="#FF8C00" fill-opacity="0.17"/>
<circle cx="596.2" cy="257.0" r="4" fill="#FF8C00" fill-opacity="0.17"/>
<circle cx="596.2" cy="257.9" r="4" fill="#FF8C00" fill-opacity="0.17"/>
<circle cx="596.2" cy="258.6" r="4" fill="#FF8C00" fill-opacity="0.17"/>
<circle cx="596.2" cy="258.7" r="4" fill="#FF8C00" fill-opacity="0.17"/>
<circle cx="596.2" cy="259.3" r="4" fill="#FF8C00" fill-opacity="0.17"/>
<circle cx="596.2" cy="259.6" r="4" fill="#FF8C00" fill-opacity="0.17"/>
<circle cx="596.2" cy="265.0" r="4" fill="#FF8C00" fill-opacity="0.17"/>
<circle cx="596.2" cy="269.0" r="4" fill="#FF8C00" fill-opacity="0.17"/>
<circle cx="596.2" cy="269.5" r="4" fill="#FF8C00" fill-opacity="0.17"/>
<circle cx="596.2" cy="203.0" r="4" fill="#FF8C00" fill-opacity="0.17"/>
<circle cx="596.2" cy="210.0" r="4" fill="#FF8C00" fill-opacity="0.17"/>
<circle cx="596.2" cy="216.0" r="4" fill="#FF8C00" fill-opacity="0.17"/>
<circle cx="596.2" cy="315.0" r="4" fill="#FF8C00" fill-opacity="0.17"/>
<circle cx="613.2" cy="215.5" r="4" fill="#FF8C00" fill-opacity="0.17"/>
<circle cx="613.2" cy="218.4" r="4" fill="#FF8C00" fill-opacity="0.17"/>
<circle cx="613.2" cy="221.3" r="4" fill="#FF8C00" fill-opacity="0.17"/>
<circle cx="613.2" cy="221.3" r="4" fill="#FF8C00" fill-opacity="0.17"/>
<circle cx="613.2" cy="226.0" r="4" fill="#FF8C00" fill-opacity="0.17"/>
<circle cx="613.2" cy="224.5" r="4" fill="#FF8C00" fill-opacity="0.17"/>
<circle cx="613.2" cy="225.1" r="4" fill="#FF8C00" fill-opacity="0.17"/>
<circle cx="613.2" cy="225.3" r="4" fill="#FF8C00" fill-opacity="0.17"/>
<circle cx="613.2" cy="226.0" r="4" fill="#FF8C00" fill-opacity="0.17"/>
<circle cx="613.2" cy="226.6" r="4" fill="#FF8C00" fill-opacity="0.17"/>
<circle cx="613.2" cy="227.0" r="4" fill="#FF8C00" fill-opacity="0.17"/>
<circle cx="613.2" cy="227.5" r="4" fill="#FF8C00" fill-opacity="0.17"/>
<circle cx="613.2" cy="227.4" r="4" fill="#FF8C00" fill-opacity="0.17"/>
<circle cx="613.2" cy="228.0" r="4" fill="#FF8C00" fill-opacity="0.17"/>
<circle cx="613.2" cy="228.7" r="4" fill="#FF8C00" fill-opacity="0.17"/>
<circle cx="613.2" cy="229.4" r="4" fill="#FF8C00" fill-opacity="0.17"/>
<circle cx="613.2" cy="229.5" r="4" fill="#FF8C00" fill-opacity="0.17"/>
<circle cx="613.2" cy="230.4" r="4" fill="#FF8C00" fill-opacity="0.17"/>
<circle cx="613.2" cy="230.8" r="4" fill="#FF8C00" fill-opacity="0.17"/>
<circle cx="613.2" cy="230.8" r="4" fill="#FF8C00" fill-opacity="0.17"/>
<circle cx="613.2" cy="231.7" r="4" fill="#FF8C00" fill-opacity="0.17"/>
<circle cx="613.2" cy="231.9" r="4" fill="#FF8C00" fill-opacity="0.17"/>
<circle cx="613.2" cy="232.3" r="4" fill="#FF8C00" fill-opacity="0.17"/>
<circle cx="613.2" cy="232.8" r="4" fill="#FF8C00" fill-opacity="0.17"/>
<circle cx="613.2" cy="233.5" r="4" fill="#FF8C00" fill-opacity="0.17"/>
<circle cx="613.2" cy="233.8" r="4" fill="#FF8C00" fill-opacity="0.17"/>
<circle cx="613.2" cy="234.3" r="4" fill="#FF8C00" fill-opacity="0.17"/>
<circle cx="613.2" cy="234.7" r="4" fill="#FF8C00" fill-opacity="0.17"/>
<circle cx="613.2" cy="235.5" r="4" fill="#FF8C00" fill-opacity="0.17"/>
<circle cx="613.2" cy="236.0" r="4" fill="#FF8C00" fill-opacity="0.17"/>
<circle cx="613.2" cy="236.6" r="4" fill="#FF8C00" fill-opacity="0.17"/>
<circle cx="613.2" cy="237.1" r="4" fill="#FF8C00" fill-opacity="0.17"/>
<circle cx="613.2" cy="237.3" r="4" fill="#FF8C00" fill-opacity="0.17"/>
<circle cx="613.2" cy="238.3" r="4" fill="#FF8C00" fill-opacity="0.17"/>
<circle cx="613.2" cy="238.0" r="4" fill="#FF8C00" fill-opacity="0.17"/>
<circle cx="613.2" cy="238.9" r="4" fill="#FF8C00" fill-opacity="0.17"/>
<circle cx="613.2" cy="239.3" r="4" fill="#FF8C00" fill-opacity="0.17"/>
<circle cx="613.2" cy="239.9" r="4" fill="#FF8C00" fill-opacity="0.17"/>
<circle cx="613.2" cy="240.1" r="4" fill="#FF8C00" fill-opacity="0.17"/>
<circle cx="613.2" cy="241.2" r="4" fill="#FF8C00" fill-opacity="0.17"/>
<circle cx="613.2" cy="241.3" r="4" fill="#FF8C00" fill-opacity="0.17"/>
<circle cx="613.2" cy="241.5" r="4" fill="#FF8C00" fill-opacity="0.17"/>
<circle cx="613.2" cy="242.5" r="4" fill="#FF8C00" fill-opacity="0.17"/>
<circle cx="613.2" cy="242.5" r="4" fill="#FF8C00" fill-opacity="0.17"/>
<circle cx="613.2" cy="243.4" r="4" fill="#FF8C00" fill-opacity="0.17"/>
<circle cx="613.2" cy="243.7" r="4" fill="#FF8C00" fill-opacity="0.17"/>
<circle cx="613.2" cy="244.4" r="4" fill="#FF8C00" fill-opacity="0.17"/>
<circle cx="613.2" cy="245.2" r="4" fill="#FF8C00" fill-opacity="0.17"/>
<circle cx="613.2" cy="245.5" r="4" fill="#FF8C00" fill-opacity="0.17"/>
<circle cx="613.2" cy="245.7" r="4" fill="#FF8C00" fill-opacity="0.17"/>
<circle cx="613.2" cy="246.5" r="4" fill="#FF8C00" fill-opacity="0.17"/>
<circle cx="613.2" cy="246.8" r="4" fill="#FF8C00" fill-opacity="0.17"/>
<circle cx="613.2" cy="247.1" r="4" fill="#FF8C00" fill-opacity="0.17"/>
<circle cx="613.2" cy="247.4" r="4" fill="#FF8C00" fill-opacity="0.17"/>
<circle cx="613.2" cy="248.3" r="4" fill="#FF8C00" fill-opacity="0.17"/>
<circle cx="613.2" cy="248.7" r="4" fill="#FF8C00" fill-opacity="0.17"/>
<circle cx="613.2" cy="249.5" r="4" fill="#FF8C00" fill-opacity="0.17"/>
<circle cx="613.2" cy="250.0" r="4" fill="#FF8C00" fill-opacity="0.17"/>
<circle cx="613.2" cy="250.2" r="4" fill="#FF8C00" fill-opacity="0.17"/>
<circle cx="613.2" cy="250.5" r="4" fill="#FF8C00" fill-opacity="0.17"/>
<circle cx="613.2" cy="251.4" r="4" fill="#FF8C00" fill-opacity="0.17"/>
<circle cx="613.2" cy="251.1" r="4" fill="#FF8C00" fill-opacity="0.17"/>
<circle cx="613.2" cy="251.7" r="4" fill="#FF8C00" fill-opacity="0.17"/>
<circle cx="613.2" cy="252.6" r="4" fill="#FF8C00" fill-opacity="0.17"/>
<circle cx="613.2" cy="253.1" r="4" fill="#FF8C00" fill-opacity="0.17"/>
<circle cx="613.2" cy="253.2" r="4" fill="#FF8C00" fill-opacity="0.17"/>
<circle cx="613.2" cy="254.1" r="4" fill="#FF8C00" fill-opacity="0.17"/>
<circle cx="613.2" cy="254.8" r="4" fill="#FF8C00" fill-opacity="0.17"/>
<circle cx="613.2" cy="254.8" r="4" fill="#FF8C00" fill-opacity="0.17"/>
<circle cx="613.2" cy="257.6" r="4" fill="#FF8C00" fill-opacity="0.17"/>
<circle cx="613.2" cy="259.6" r="4" fill="#FF8C00" fill-opacity="0.17"/>
<circle cx="613.2" cy="263.3" r="4" fill="#FF8C00" fill-opacity="0.17"/>
<circle cx="613.2" cy="270.6" r="4" fill="#FF8C00" fill-opacity="0.17"/>
<circle cx="613.2" cy="270.4" r="4" fill="#FF8C00" fill-opacity="0.17"/>
<circle cx="613.2" cy="277.1" r="4" fill="#FF8C00" fill-opacity="0.17"/>
<circle cx="613.2" cy="278.0" r="4" fill="#FF8C00" fill-opacity="0.17"/>
<circle cx="613.2" cy="197.0" r="4" fill="#FF8C00" fill-opacity="0.17"/>
<circle cx="613.2" cy="284.0" r="4" fill="#FF8C00" fill-opacity="0.17"/>
<circle cx="613.2" cy="393.4" r="4" fill="#FF8C00" fill-opacity="0.17"/>
<circle cx="630.4" cy="213.4" r="4" fill="#FF8C00" fill-opacity="0.17"/>
<circle cx="630.4" cy="214.7" r="4" fill="#FF8C00" fill-opacity="0.17"/>
<circle cx="630.4" cy="222.1" r="4" fill="#FF8C00" fill-opacity="0.17"/>
<circle cx="630.4" cy="222.5" r="4" fill="#FF8C00" fill-opacity="0.17"/>
<circle cx="630.4" cy="225.2" r="4" fill="#FF8C00" fill-opacity="0.17"/>
<circle cx="630.4" cy="224.3" r="4" fill="#FF8C00" fill-opacity="0.17"/>
<circle cx="630.4" cy="225.3" r="4" fill="#FF8C00" fill-opacity="0.17"/>
<circle cx="630.4" cy="225.3" r="4" fill="#FF8C00" fill-opacity="0.17"/>
<circle cx="630.4" cy="225.6" r="4" fill="#FF8C00" fill-opacity="0.17"/>
<circle cx="630.4" cy="226.2" r="4" fill="#FF8C00" fill-opacity="0.17"/>
<circle cx="630.4" cy="226.4" r="4" fill="#FF8C00" fill-opacity="0.17"/>
<circle cx="630.4" cy="227.2" r="4" fill="#FF8C00" fill-opacity="0.17"/>
<circle cx="630.4" cy="227.6" r="4" fill="#FF8C00" fill-opacity="0.17"/>
<circle cx="630.4" cy="227.9" r="4" fill="#FF8C00" fill-opacity="0.17"/>
<circle cx="630.4" cy="228.7" r="4" fill="#FF8C00" fill-opacity="0.17"/>
<circle cx="630.4" cy="229.2" r="4" fill="#FF8C00" fill-opacity="0.17"/>
<circle cx="630.4" cy="229.0" r="4" fill="#FF8C00" fill-opacity="0.17"/>
<circle cx="630.4" cy="229.9" r="4" fill="#FF8C00" fill-opacity="0.17"/>
<circle cx="630.4" cy="230.2" r="4" fill="#FF8C00" fill-opacity="0.17"/>
<circle cx="630.4" cy="231.1" r="4" fill="#FF8C00" fill-opacity="0.17"/>
<circle cx="630.4" cy="231.5" r="4" fill="#FF8C00" fill-opacity="0.17"/>
<circle cx="630.4" cy="231.5" r="4" fill="#FF8C00" fill-opacity="0.17"/>
<circle cx="630.4" cy="232.0" r="4" fill="#FF8C00" fill-opacity="0.17"/>
<circle cx="630.4" cy="232.3" r="4" fill="#FF8C00" fill-opacity="0.17"/>
<circle cx="630.4" cy="233.5" r="4" fill="#FF8C00" fill-opacity="0.17"/>
<circle cx="630.4" cy="233.4" r="4" fill="#FF8C00" fill-opacity="0.17"/>
<circle cx="630.4" cy="234.1" r="4" fill="#FF8C00" fill-opacity="0.17"/>
<circle cx="630.4" cy="234.4" r="4" fill="#FF8C00" fill-opacity="0.17"/>
<circle cx="630.4" cy="235.0" r="4" fill="#FF8C00" fill-opacity="0.17"/>
<circle cx="630.4" cy="235.4" r="4" fill="#FF8C00" fill-opacity="0.17"/>
<circle cx="630.4" cy="236.0" r="4" fill="#FF8C00" fill-opacity="0.17"/>
<circle cx="630.4" cy="235.9" r="4" fill="#FF8C00" fill-opacity="0.17"/>
<circle cx="630.4" cy="236.9" r="4" fill="#FF8C00" fill-opacity="0.17"/>
<circle cx="630.4" cy="237.0" r="4" fill="#FF8C00" fill-opacity="0.17"/>
<circle cx="630.4" cy="237.7" r="4" fill="#FF8C00" fill-opacity="0.17"/>
<circle cx="630.4" cy="238.0" r="4" fill="#FF8C00" fill-opacity="0.17"/>
<circle cx="630.4" cy="238.4" r="4" fill="#FF8C00" fill-opacity="0.17"/>
<circle cx="630.4" cy="239.0" r="4" fill="#FF8C00" fill-opacity="0.17"/>
<circle cx="630.4" cy="239.4" r="4" fill="#FF8C00" fill-opacity="0.17"/>
<circle cx="630.4" cy="239.8" r="4" fill="#FF8C00" fill-opacity="0.17"/>
<circle cx="630.4" cy="240.6" r="4" fill="#FF8C00" fill-opacity="0.17"/>
<circle cx="630.4" cy="240.9" r="4" fill="#FF8C00" fill-opacity="0.17"/>
<circle cx="630.4" cy="240.9" r="4" fill="#FF8C00" fill-opacity="0.17"/>
<circle cx="630.4" cy="241.5" r="4" fill="#FF8C00" fill-opacity="0.17"/>
<circle cx="630.4" cy="242.2" r="4" fill="#FF8C00" fill-opacity="0.17"/>
<circle cx="630.4" cy="243.0" r="4" fill="#FF8C00" fill-opacity="0.17"/>
<circle cx="630.4" cy="243.4" r="4" fill="#FF8C00" fill-opacity="0.17"/>
<circle cx="630.4" cy="243.6" r="4" fill="#FF8C00" fill-opacity="0.17"/>
<circle cx="630.4" cy="243.6" r="4" fill="#FF8C00" fill-opacity="0.17"/>
<circle cx="630.4" cy="244.7" r="4" fill="#FF8C00" fill-opacity="0.17"/>
<circle cx="630.4" cy="244.9" r="4" fill="#FF8C00" fill-opacity="0.17"/>
<circle cx="630.4" cy="245.4" r="4" fill="#FF8C00" fill-opacity="0.17"/>
<circle cx="630.4" cy="246.0" r="4" fill="#FF8C00" fill-opacity="0.17"/>
<circle cx="630.4" cy="246.4" r="4" fill="#FF8C00" fill-opacity="0.17"/>
<circle cx="630.4" cy="246.7" r="4" fill="#FF8C00" fill-opacity="0.17"/>
<circle cx="630.4" cy="247.5" r="4" fill="#FF8C00" fill-opacity="0.17"/>
<circle cx="630.4" cy="247.6" r="4" fill="#FF8C00" fill-opacity="0.17"/>
<circle cx="630.4" cy="248.0" r="4" fill="#FF8C00" fill-opacity="0.17"/>
<circle cx="630.4" cy="248.9" r="4" fill="#FF8C00" fill-opacity="0.17"/>
<circle cx="630.4" cy="248.8" r="4" fill="#FF8C00" fill-opacity="0.17"/>
<circle cx="630.4" cy="249.3" r="4" fill="#FF8C00" fill-opacity="0.17"/>
<circle cx="630.4" cy="250.2" r="4" fill="#FF8C00" fill-opacity="0.17"/>
<circle cx="630.4" cy="250.0" r="4" fill="#FF8C00" fill-opacity="0.17"/>
<circle cx="630.4" cy="251.1" r="4" fill="#FF8C00" fill-opacity="0.17"/>
<circle cx="630.4" cy="251.5" r="4" fill="#FF8C00" fill-opacity="0.17"/>
<circle cx="630.4" cy="251.7" r="4" fill="#FF8C00" fill-opacity="0.17"/>
<circle cx="630.4" cy="252.0" r="4" fill="#FF8C00" fill-opacity="0.17"/>
<circle cx="630.4" cy="252.9" r="4" fill="#FF8C00" fill-opacity="0.17"/>
<circle cx="630.4" cy="253.5" r="4" fill="#FF8C00" fill-opacity="0.17"/>
<circle cx="630.4" cy="253.3" r="4" fill="#FF8C00" fill-opacity="0.17"/>
<circle cx="630.4" cy="254.0" r="4" fill="#FF8C00" fill-opacity="0.17"/>
<circle cx="630.4" cy="254.5" r="4" fill="#FF8C00" fill-opacity="0.17"/>
<circle cx="630.4" cy="255.0" r="4" fill="#FF8C00" fill-opacity="0.17"/>
<circle cx="630.4" cy="257.6" r="4" fill="#FF8C00" fill-opacity="0.17"/>
<circle cx="630.4" cy="260.6" r="4" fill="#FF8C00" fill-opacity="0.17"/>
<circle cx="630.4" cy="268.4" r="4" fill="#FF8C00" fill-opacity="0.17"/>
<circle cx="630.4" cy="274.5" r="4" fill="#FF8C00" fill-opacity="0.17"/>
<circle cx="630.4" cy="273.0" r="4" fill="#FF8C00" fill-opacity="0.17"/>
<circle cx="630.4" cy="278.7" r="4" fill="#FF8C00" fill-opacity="0.17"/>
<circle cx="630.4" cy="287.7" r="4" fill="#FF8C00" fill-opacity="0.17"/>
<circle cx="630.4" cy="290.0" r="4" fill="#FF8C00" fill-opacity="0.17"/>
<circle cx="630.4" cy="182.4" r="4" fill="#FF8C00" fill-opacity="0.17"/>
<circle cx="630.4" cy="206.7" r="4" fill="#FF8C00" fill-opacity="0.17"/>
<circle cx="630.4" cy="295.0" r="4" fill="#FF8C00" fill-opacity="0.17"/>
<circle cx="630.4" cy="358.3" r="4" fill="#FF8C00" fill-opacity="0.17"/>
<circle cx="647.8" cy="210.6" r="4" fill="#FF8C00" fill-opacity="0.17"/>
<circle cx="647.8" cy="210.1" r="4" fill="#FF8C00" fill-opacity="0.17"/>
<circle cx="647.8" cy="216.9" r="4" fill="#FF8C00" fill-opacity="0.17"/>
<circle cx="647.8" cy="221.3" r="4" fill="#FF8C00" fill-opacity="0.17"/>
<circle cx="647.8" cy="222.0" r="4" fill="#FF8C00" fill-opacity="0.17"/>
<circle cx="647.8" cy="220.6" r="4" fill="#FF8C00" fill-opacity="0.17"/>
<circle cx="647.8" cy="220.5" r="4" fill="#FF8C00" fill-opacity="0.17"/>
<circle cx="647.8" cy="221.8" r="4" fill="#FF8C00" fill-opacity="0.17"/>
<circle cx="647.8" cy="221.7" r="4" fill="#FF8C00" fill-opacity="0.17"/>
<circle cx="647.8" cy="222.6" r="4" fill="#FF8C00" fill-opacity="0.17"/>
<circle cx="647.8" cy="223.4" r="4" fill="#FF8C00" fill-opacity="0.17"/>
<circle cx="647.8" cy="223.6" r="4" fill="#FF8C00" fill-opacity="0.17"/>
<circle cx="647.8" cy="223.6" r="4" fill="#FF8C00" fill-opacity="0.17"/>
<circle cx="647.8" cy="224.3" r="4" fill="#FF8C00" fill-opacity="0.17"/>
<circle cx="647.8" cy="225.3" r="4" fill="#FF8C00" fill-opacity="0.17"/>
<circle cx="647.8" cy="225.1" r="4" fill="#FF8C00" fill-opacity="0.17"/>
<circle cx="647.8" cy="226.0" r="4" fill="#FF8C00" fill-opacity="0.17"/>
<circle cx="647.8" cy="226.4" r="4" fill="#FF8C00" fill-opacity="0.17"/>
<circle cx="647.8" cy="226.6" r="4" fill="#FF8C00" fill-opacity="0.17"/>
<circle cx="647.8" cy="227.6" r="4" fill="#FF8C00" fill-opacity="0.17"/>
<circle cx="647.8" cy="227.5" r="4" fill="#FF8C00" fill-opacity="0.17"/>
<circle cx="647.8" cy="228.1" r="4" fill="#FF8C00" fill-opacity="0.17"/>
<circle cx="647.8" cy="228.8" r="4" fill="#FF8C00" fill-opacity="0.17"/>
<circle cx="647.8" cy="229.1" r="4" fill="#FF8C00" fill-opacity="0.17"/>
<circle cx="647.8" cy="229.6" r="4" fill="#FF8C00" fill-opacity="0.17"/>
<circle cx="647.8" cy="230.5" r="4" fill="#FF8C00" fill-opacity="0.17"/>
<circle cx="647.8" cy="231.2" r="4" fill="#FF8C00" fill-opacity="0.17"/>
<circle cx="647.8" cy="231.8" r="4" fill="#FF8C00" fill-opacity="0.17"/>
<circle cx="647.8" cy="231.6" r="4" fill="#FF8C00" fill-opacity="0.17"/>
<circle cx="647.8" cy="232.4" r="4" fill="#FF8C00" fill-opacity="0.17"/>
<circle cx="647.8" cy="232.8" r="4" fill="#FF8C00" fill-opacity="0.17"/>
<circle cx="647.8" cy="233.5" r="4" fill="#FF8C00" fill-opacity="0.17"/>
<circle cx="647.8" cy="233.9" r="4" fill="#FF8C00" fill-opacity="0.17"/>
<circle cx="647.8" cy="234.8" r="4" fill="#FF8C00" fill-opacity="0.17"/>
<circle cx="647.8" cy="234.8" r="4" fill="#FF8C00" fill-opacity="0.17"/>
<circle cx="647.8" cy="235.1" r="4" fill="#FF8C00" fill-opacity="0.17"/>
<circle cx="647.8" cy="236.1" r="4" fill="#FF8C00" fill-opacity="0.17"/>
<circle cx="647.8" cy="236.1" r="4" fill="#FF8C00" fill-opacity="0.17"/>
<circle cx="647.8" cy="237.1" r="4" fill="#FF8C00" fill-opacity="0.17"/>
<circle cx="647.8" cy="237.5" r="4" fill="#FF8C00" fill-opacity="0.17"/>
<circle cx="647.8" cy="238.3" r="4" fill="#FF8C00" fill-opacity="0.17"/>
<circle cx="647.8" cy="238.5" r="4" fill="#FF8C00" fill-opacity="0.17"/>
<circle cx="647.8" cy="239.1" r="4" fill="#FF8C00" fill-opacity="0.17"/>
<circle cx="647.8" cy="239.2" r="4" fill="#FF8C00" fill-opacity="0.17"/>
<circle cx="647.8" cy="240.0" r="4" fill="#FF8C00" fill-opacity="0.17"/>
<circle cx="647.8" cy="240.2" r="4" fill="#FF8C00" fill-opacity="0.17"/>
<circle cx="647.8" cy="241.2" r="4" fill="#FF8C00" fill-opacity="0.17"/>
<circle cx="647.8" cy="241.5" r="4" fill="#FF8C00" fill-opacity="0.17"/>
<circle cx="647.8" cy="241.6" r="4" fill="#FF8C00" fill-opacity="0.17"/>
<circle cx="647.8" cy="242.2" r="4" fill="#FF8C00" fill-opacity="0.17"/>
<circle cx="647.8" cy="242.8" r="4" fill="#FF8C00" fill-opacity="0.17"/>
<circle cx="647.8" cy="243.7" r="4" fill="#FF8C00" fill-opacity="0.17"/>
<circle cx="647.8" cy="243.7" r="4" fill="#FF8C00" fill-opacity="0.17"/>
<circle cx="647.8" cy="244.6" r="4" fill="#FF8C00" fill-opacity="0.17"/>
<circle cx="647.8" cy="245.1" r="4" fill="#FF8C00" fill-opacity="0.17"/>
<circle cx="647.8" cy="245.1" r="4" fill="#FF8C00" fill-opacity="0.17"/>
<circle cx="647.8" cy="246.1" r="4" fill="#FF8C00" fill-opacity="0.17"/>
<circle cx="647.8" cy="246.1" r="4" fill="#FF8C00" fill-opacity="0.17"/>
<circle cx="647.8" cy="246.6" r="4" fill="#FF8C00" fill-opacity="0.17"/>
<circle cx="647.8" cy="247.5" r="4" fill="#FF8C00" fill-opacity="0.17"/>
<circle cx="647.8" cy="247.7" r="4" fill="#FF8C00" fill-opacity="0.17"/>
<circle cx="647.8" cy="248.8" r="4" fill="#FF8C00" fill-opacity="0.17"/>
<circle cx="647.8" cy="248.9" r="4" fill="#FF8C00" fill-opacity="0.17"/>
<circle cx="647.8" cy="249.3" r="4" fill="#FF8C00" fill-opacity="0.17"/>
<circle cx="647.8" cy="250.2" r="4" fill="#FF8C00" fill-opacity="0.17"/>
<circle cx="647.8" cy="250.0" r="4" fill="#FF8C00" fill-opacity="0.17"/>
<circle cx="647.8" cy="251.2" r="4" fill="#FF8C00" fill-opacity="0.17"/>
<circle cx="647.8" cy="251.0" r="4" fill="#FF8C00" fill-opacity="0.17"/>
<circle cx="647.8" cy="251.6" r="4" fill="#FF8C00" fill-opacity="0.17"/>
<circle cx="647.8" cy="252.9" r="4" fill="#FF8C00" fill-opacity="0.17"/>
<circle cx="647.8" cy="253.1" r="4" fill="#FF8C00" fill-opacity="0.17"/>
<circle cx="647.8" cy="253.2" r="4" fill="#FF8C00" fill-opacity="0.17"/>
<circle cx="647.8" cy="253.6" r="4" fill="#FF8C00" fill-opacity="0.17"/>
<circle cx="647.8" cy="254.9" r="4" fill="#FF8C00" fill-opacity="0.17"/>
<circle cx="647.8" cy="255.1" r="4" fill="#FF8C00" fill-opacity="0.17"/>
<circle cx="647.8" cy="255.7" r="4" fill="#FF8C00" fill-opacity="0.17"/>
<circle cx="647.8" cy="255.6" r="4" fill="#FF8C00" fill-opacity="0.17"/>
<circle cx="647.8" cy="256.6" r="4" fill="#FF8C00" fill-opacity="0.17"/>
<circle cx="647.8" cy="256.8" r="4" fill="#FF8C00" fill-opacity="0.17"/>
<circle cx="647.8" cy="258.4" r="4" fill="#FF8C00" fill-opacity="0.17"/>
<circle cx="647.8" cy="262.3" r="4" fill="#FF8C00" fill-opacity="0.17"/>
<circle cx="647.8" cy="267.2" r="4" fill="#FF8C00" fill-opacity="0.17"/>
<circle cx="647.8" cy="268.9" r="4" fill="#FF8C00" fill-opacity="0.17"/>
<circle cx="647.8" cy="272.4" r="4" fill="#FF8C00" fill-opacity="0.17"/>
<circle cx="647.8" cy="274.2" r="4" fill="#FF8C00" fill-opacity="0.17"/>
<circle cx="647.8" cy="280.0" r="4" fill="#FF8C00" fill-opacity="0.17"/>
<circle cx="647.8" cy="201.0" r="4" fill="#FF8C00" fill-opacity="0.17"/>
<circle cx="647.8" cy="292.0" r="4" fill="#FF8C00" fill-opacity="0.17"/>
<circle cx="647.8" cy="313.3" r="4" fill="#FF8C00" fill-opacity="0.17"/>
<circle cx="665" cy="207.1" r="4" fill="#FF8C00" fill-opacity="0.17"/>
<circle cx="665" cy="210.5" r="4" fill="#FF8C00" fill-opacity="0.17"/>
<circle cx="665" cy="211.4" r="4" fill="#FF8C00" fill-opacity="0.17"/>
<circle cx="665" cy="216.1" r="4" fill="#FF8C00" fill-opacity="0.17"/>
<circle cx="665" cy="217.2" r="4" fill="#FF8C00" fill-opacity="0.17"/>
<circle cx="665" cy="220.0" r="4" fill="#FF8C00" fill-opacity="0.17"/>
<circle cx="665" cy="218.5" r="4" fill="#FF8C00" fill-opacity="0.17"/>
<circle cx="665" cy="219.1" r="4" fill="#FF8C00" fill-opacity="0.17"/>
<circle cx="665" cy="219.3" r="4" fill="#FF8C00" fill-opacity="0.17"/>
<circle cx="665" cy="219.5" r="4" fill="#FF8C00" fill-opacity="0.17"/>
<circle cx="665" cy="220.0" r="4" fill="#FF8C00" fill-opacity="0.17"/>
<circle cx="665" cy="220.6" r="4" fill="#FF8C00" fill-opacity="0.17"/>
<circle cx="665" cy="221.0" r="4" fill="#FF8C00" fill-opacity="0.17"/>
<circle cx="665" cy="222.2" r="4" fill="#FF8C00" fill-opacity="0.17"/>
<circle cx="665" cy="222.3" r="4" fill="#FF8C00" fill-opacity="0.17"/>
<circle cx="665" cy="223.1" r="4" fill="#FF8C00" fill-opacity="0.17"/>
<circle cx="665" cy="222.9" r="4" fill="#FF8C00" fill-opacity="0.17"/>
<circle cx="665" cy="223.8" r="4" fill="#FF8C00" fill-opacity="0.17"/>
<circle cx="665" cy="224.6" r="4" fill="#FF8C00" fill-opacity="0.17"/>
<circle cx="665" cy="224.9" r="4" fill="#FF8C00" fill-opacity="0.17"/>
<circle cx="665" cy="225.2" r="4" fill="#FF8C00" fill-opacity="0.17"/>
<circle cx="665" cy="225.7" r="4" fill="#FF8C00" fill-opacity="0.17"/>
<circle cx="665" cy="225.9" r="4" fill="#FF8C00" fill-opacity="0.17"/>
<circle cx="665" cy="226.4" r="4" fill="#FF8C00" fill-opacity="0.17"/>
<circle cx="665" cy="226.9" r="4" fill="#FF8C00" fill-opacity="0.17"/>
<circle cx="665" cy="227.6" r="4" fill="#FF8C00" fill-opacity="0.17"/>
<circle cx="665" cy="228.1" r="4" fill="#FF8C00" fill-opacity="0.17"/>
<circle cx="665" cy="229.0" r="4" fill="#FF8C00" fill-opacity="0.17"/>
<circle cx="665" cy="228.9" r="4" fill="#FF8C00" fill-opacity="0.17"/>
<circle cx="665" cy="229.4" r="4" fill="#FF8C00" fill-opacity="0.17"/>
<circle cx="665" cy="230.0" r="4" fill="#FF8C00" fill-opacity="0.17"/>
<circle cx="665" cy="230.3" r="4" fill="#FF8C00" fill-opacity="0.17"/>
<circle cx="665" cy="230.9" r="4" fill="#FF8C00" fill-opacity="0.17"/>
<circle cx="665" cy="231.4" r="4" fill="#FF8C00" fill-opacity="0.17"/>
<circle cx="665" cy="232.1" r="4" fill="#FF8C00" fill-opacity="0.17"/>
<circle cx="665" cy="232.2" r="4" fill="#FF8C00" fill-opacity="0.17"/>
<circle cx="665" cy="233.4" r="4" fill="#FF8C00" fill-opacity="0.17"/>
<circle cx="665" cy="233.4" r="4" fill="#FF8C00" fill-opacity="0.17"/>
<circle cx="665" cy="234.4" r="4" fill="#FF8C00" fill-opacity="0.17"/>
<circle cx="665" cy="234.7" r="4" fill="#FF8C00" fill-opacity="0.17"/>
<circle cx="665" cy="235.2" r="4" fill="#FF8C00" fill-opacity="0.17"/>
<circle cx="665" cy="235.5" r="4" fill="#FF8C00" fill-opacity="0.17"/>
<circle cx="665" cy="236.4" r="4" fill="#FF8C00" fill-opacity="0.17"/>
<circle cx="665" cy="236.2" r="4" fill="#FF8C00" fill-opacity="0.17"/>
<circle cx="665" cy="237.1" r="4" fill="#FF8C00" fill-opacity="0.17"/>
<circle cx="665" cy="237.3" r="4" fill="#FF8C00" fill-opacity="0.17"/>
<circle cx="665" cy="238.1" r="4" fill="#FF8C00" fill-opacity="0.17"/>
<circle cx="665" cy="238.6" r="4" fill="#FF8C00" fill-opacity="0.17"/>
<circle cx="665" cy="238.6" r="4" fill="#FF8C00" fill-opacity="0.17"/>
<circle cx="665" cy="239.2" r="4" fill="#FF8C00" fill-opacity="0.17"/>
<circle cx="665" cy="239.5" r="4" fill="#FF8C00" fill-opacity="0.17"/>
<circle cx="665" cy="240.2" r="4" fill="#FF8C00" fill-opacity="0.17"/>
<circle cx="665" cy="240.5" r="4" fill="#FF8C00" fill-opacity="0.17"/>
<circle cx="665" cy="241.3" r="4" fill="#FF8C00" fill-opacity="0.17"/>
<circle cx="665" cy="242.3" r="4" fill="#FF8C00" fill-opacity="0.17"/>
<circle cx="665" cy="242.2" r="4" fill="#FF8C00" fill-opacity="0.17"/>
<circle cx="665" cy="242.7" r="4" fill="#FF8C00" fill-opacity="0.17"/>
<circle cx="665" cy="243.3" r="4" fill="#FF8C00" fill-opacity="0.17"/>
<circle cx="665" cy="243.6" r="4" fill="#FF8C00" fill-opacity="0.17"/>
<circle cx="665" cy="244.5" r="4" fill="#FF8C00" fill-opacity="0.17"/>
<circle cx="665" cy="245.0" r="4" fill="#FF8C00" fill-opacity="0.17"/>
<circle cx="665" cy="245.0" r="4" fill="#FF8C00" fill-opacity="0.17"/>
<circle cx="665" cy="245.5" r="4" fill="#FF8C00" fill-opacity="0.17"/>
<circle cx="665" cy="246.4" r="4" fill="#FF8C00" fill-opacity="0.17"/>
<circle cx="665" cy="247.1" r="4" fill="#FF8C00" fill-opacity="0.17"/>
<circle cx="665" cy="247.3" r="4" fill="#FF8C00" fill-opacity="0.17"/>
<circle cx="665" cy="247.6" r="4" fill="#FF8C00" fill-opacity="0.17"/>
<circle cx="665" cy="248.6" r="4" fill="#FF8C00" fill-opacity="0.17"/>
<circle cx="665" cy="248.2" r="4" fill="#FF8C00" fill-opacity="0.17"/>
<circle cx="665" cy="248.8" r="4" fill="#FF8C00" fill-opacity="0.17"/>
<circle cx="665" cy="249.9" r="4" fill="#FF8C00" fill-opacity="0.17"/>
<circle cx="665" cy="250.1" r="4" fill="#FF8C00" fill-opacity="0.17"/>
<circle cx="665" cy="250.2" r="4" fill="#FF8C00" fill-opacity="0.17"/>
<circle cx="665" cy="251.2" r="4" fill="#FF8C00" fill-opacity="0.17"/>
<circle cx="665" cy="252.0" r="4" fill="#FF8C00" fill-opacity="0.17"/>
<circle cx="665" cy="252.1" r="4" fill="#FF8C00" fill-opacity="0.17"/>
<circle cx="665" cy="252.5" r="4" fill="#FF8C00" fill-opacity="0.17"/>
<circle cx="665" cy="252.7" r="4" fill="#FF8C00" fill-opacity="0.17"/>
<circle cx="665" cy="253.2" r="4" fill="#FF8C00" fill-opacity="0.17"/>
<circle cx="665" cy="254.4" r="4" fill="#FF8C00" fill-opacity="0.17"/>
<circle cx="665" cy="254.5" r="4" fill="#FF8C00" fill-opacity="0.17"/>
<circle cx="665" cy="255.4" r="4" fill="#FF8C00" fill-opacity="0.17"/>
<circle cx="665" cy="255.1" r="4" fill="#FF8C00" fill-opacity="0.17"/>
<circle cx="665" cy="255.8" r="4" fill="#FF8C00" fill-opacity="0.17"/>
<circle cx="665" cy="256.1" r="4" fill="#FF8C00" fill-opacity="0.17"/>
<circle cx="665" cy="256.9" r="4" fill="#FF8C00" fill-opacity="0.17"/>
<circle cx="665" cy="257.1" r="4" fill="#FF8C00" fill-opacity="0.17"/>
<circle cx="665" cy="257.7" r="4" fill="#FF8C00" fill-opacity="0.17"/>
<circle cx="665" cy="260.9" r="4" fill="#FF8C00" fill-opacity="0.17"/>
<circle cx="665" cy="264.2" r="4" fill="#FF8C00" fill-opacity="0.17"/>
<circle cx="665" cy="266.4" r="4" fill="#FF8C00" fill-opacity="0.17"/>
<circle cx="665" cy="270.3" r="4" fill="#FF8C00" fill-opacity="0.17"/>
<circle cx="665" cy="281.0" r="4" fill="#FF8C00" fill-opacity="0.17"/>
<circle cx="665" cy="279.3" r="4" fill="#FF8C00" fill-opacity="0.17"/>
<circle cx="665" cy="285.7" r="4" fill="#FF8C00" fill-opacity="0.17"/>
<circle cx="665" cy="288.9" r="4" fill="#FF8C00" fill-opacity="0.17"/>
<circle cx="665" cy="112.4" r="4" fill="#FF8C00" fill-opacity="0.17"/>
<circle cx="665" cy="188.6" r="4" fill="#FF8C00" fill-opacity="0.17"/>
<circle cx="665" cy="202.0" r="4" fill="#FF8C00" fill-opacity="0.17"/>
<circle cx="665" cy="298.6" r="4" fill="#FF8C00" fill-opacity="0.17"/>
<circle cx="665" cy="322.6" r="4" fill="#FF8C00" fill-opacity="0.17"/>
<circle cx="665" cy="393.4" r="4" fill="#FF8C00" fill-opacity="0.17"/>
<circle cx="682" cy="207.9" r="4" fill="#FF8C00" fill-opacity="0.17"/>
<circle cx="682" cy="208.3" r="4" fill="#FF8C00" fill-opacity="0.17"/>
<circle cx="682" cy="211.1" r="4" fill="#FF8C00" fill-opacity="0.17"/>
<circle cx="682" cy="212.4" r="4" fill="#FF8C00" fill-opacity="0.17"/>
<circle cx="682" cy="216.0" r="4" fill="#FF8C00" fill-opacity="0.17"/>
<circle cx="682" cy="218.0" r="4" fill="#FF8C00" fill-opacity="0.17"/>
<circle cx="682" cy="216.6" r="4" fill="#FF8C00" fill-opacity="0.17"/>
<circle cx="682" cy="217.4" r="4" fill="#FF8C00" fill-opacity="0.17"/>
<circle cx="682" cy="217.3" r="4" fill="#FF8C00" fill-opacity="0.17"/>
<circle cx="682" cy="217.6" r="4" fill="#FF8C00" fill-opacity="0.17"/>
<circle cx="682" cy="218.7" r="4" fill="#FF8C00" fill-opacity="0.17"/>
<circle cx="682" cy="219.2" r="4" fill="#FF8C00" fill-opacity="0.17"/>
<circle cx="682" cy="219.8" r="4" fill="#FF8C00" fill-opacity="0.17"/>
<circle cx="682" cy="220.1" r="4" fill="#FF8C00" fill-opacity="0.17"/>
<circle cx="682" cy="220.9" r="4" fill="#FF8C00" fill-opacity="0.17"/>
<circle cx="682" cy="221.5" r="4" fill="#FF8C00" fill-opacity="0.17"/>
<circle cx="682" cy="222.2" r="4" fill="#FF8C00" fill-opacity="0.17"/>
<circle cx="682" cy="222.2" r="4" fill="#FF8C00" fill-opacity="0.17"/>
<circle cx="682" cy="222.9" r="4" fill="#FF8C00" fill-opacity="0.17"/>
<circle cx="682" cy="223.8" r="4" fill="#FF8C00" fill-opacity="0.17"/>
<circle cx="682" cy="223.7" r="4" fill="#FF8C00" fill-opacity="0.17"/>
<circle cx="682" cy="224.2" r="4" fill="#FF8C00" fill-opacity="0.17"/>
<circle cx="682" cy="224.9" r="4" fill="#FF8C00" fill-opacity="0.17"/>
<circle cx="682" cy="225.2" r="4" fill="#FF8C00" fill-opacity="0.17"/>
<circle cx="682" cy="226.4" r="4" fill="#FF8C00" fill-opacity="0.17"/>
<circle cx="682" cy="227.0" r="4" fill="#FF8C00" fill-opacity="0.17"/>
<circle cx="682" cy="227.0" r="4" fill="#FF8C00" fill-opacity="0.17"/>
<circle cx="682" cy="227.4" r="4" fill="#FF8C00" fill-opacity="0.17"/>
<circle cx="682" cy="227.9" r="4" fill="#FF8C00" fill-opacity="0.17"/>
<circle cx="682" cy="228.6" r="4" fill="#FF8C00" fill-opacity="0.17"/>
<circle cx="682" cy="229.0" r="4" fill="#FF8C00" fill-opacity="0.17"/>
<circle cx="682" cy="229.8" r="4" fill="#FF8C00" fill-opacity="0.17"/>
<circle cx="682" cy="230.5" r="4" fill="#FF8C00" fill-opacity="0.17"/>
<circle cx="682" cy="230.7" r="4" fill="#FF8C00" fill-opacity="0.17"/>
<circle cx="682" cy="231.1" r="4" fill="#FF8C00" fill-opacity="0.17"/>
<circle cx="682" cy="232.2" r="4" fill="#FF8C00" fill-opacity="0.17"/>
<circle cx="682" cy="232.1" r="4" fill="#FF8C00" fill-opacity="0.17"/>
<circle cx="682" cy="232.8" r="4" fill="#FF8C00" fill-opacity="0.17"/>
<circle cx="682" cy="233.4" r="4" fill="#FF8C00" fill-opacity="0.17"/>
<circle cx="682" cy="234.1" r="4" fill="#FF8C00" fill-opacity="0.17"/>
<circle cx="682" cy="234.3" r="4" fill="#FF8C00" fill-opacity="0.17"/>
<circle cx="682" cy="235.2" r="4" fill="#FF8C00" fill-opacity="0.17"/>
<circle cx="682" cy="235.6" r="4" fill="#FF8C00" fill-opacity="0.17"/>
<circle cx="682" cy="236.6" r="4" fill="#FF8C00" fill-opacity="0.17"/>
<circle cx="682" cy="236.9" r="4" fill="#FF8C00" fill-opacity="0.17"/>
<circle cx="682" cy="237.8" r="4" fill="#FF8C00" fill-opacity="0.17"/>
<circle cx="682" cy="238.1" r="4" fill="#FF8C00" fill-opacity="0.17"/>
<circle cx="682" cy="238.7" r="4" fill="#FF8C00" fill-opacity="0.17"/>
<circle cx="682" cy="239.1" r="4" fill="#FF8C00" fill-opacity="0.17"/>
<circle cx="682" cy="239.5" r="4" fill="#FF8C00" fill-opacity="0.17"/>
<circle cx="682" cy="240.4" r="4" fill="#FF8C00" fill-opacity="0.17"/>
<circle cx="682" cy="240.8" r="4" fill="#FF8C00" fill-opacity="0.17"/>
<circle cx="682" cy="241.6" r="4" fill="#FF8C00" fill-opacity="0.17"/>
<circle cx="682" cy="241.9" r="4" fill="#FF8C00" fill-opacity="0.17"/>
<circle cx="682" cy="242.4" r="4" fill="#FF8C00" fill-opacity="0.17"/>
<circle cx="682" cy="242.6" r="4" fill="#FF8C00" fill-opacity="0.17"/>
<circle cx="682" cy="243.6" r="4" fill="#FF8C00" fill-opacity="0.17"/>
<circle cx="682" cy="243.7" r="4" fill="#FF8C00" fill-opacity="0.17"/>
<circle cx="682" cy="244.0" r="4" fill="#FF8C00" fill-opacity="0.17"/>
<circle cx="682" cy="244.5" r="4" fill="#FF8C00" fill-opacity="0.17"/>
<circle cx="682" cy="245.1" r="4" fill="#FF8C00" fill-opacity="0.17"/>
<circle cx="682" cy="245.8" r="4" fill="#FF8C00" fill-opacity="0.17"/>
<circle cx="682" cy="246.7" r="4" fill="#FF8C00" fill-opacity="0.17"/>
<circle cx="682" cy="246.9" r="4" fill="#FF8C00" fill-opacity="0.17"/>
<circle cx="682" cy="247.2" r="4" fill="#FF8C00" fill-opacity="0.17"/>
<circle cx="682" cy="248.4" r="4" fill="#FF8C00" fill-opacity="0.17"/>
<circle cx="682" cy="248.7" r="4" fill="#FF8C00" fill-opacity="0.17"/>
<circle cx="682" cy="248.8" r="4" fill="#FF8C00" fill-opacity="0.17"/>
<circle cx="682" cy="249.3" r="4" fill="#FF8C00" fill-opacity="0.17"/>
<circle cx="682" cy="249.9" r="4" fill="#FF8C00" fill-opacity="0.17"/>
<circle cx="682" cy="250.7" r="4" fill="#FF8C00" fill-opacity="0.17"/>
<circle cx="682" cy="251.7" r="4" fill="#FF8C00" fill-opacity="0.17"/>
<circle cx="682" cy="252.3" r="4" fill="#FF8C00" fill-opacity="0.17"/>
<circle cx="682" cy="252.5" r="4" fill="#FF8C00" fill-opacity="0.17"/>
<circle cx="682" cy="252.7" r="4" fill="#FF8C00" fill-opacity="0.17"/>
<circle cx="682" cy="253.4" r="4" fill="#FF8C00" fill-opacity="0.17"/>
<circle cx="682" cy="253.9" r="4" fill="#FF8C00" fill-opacity="0.17"/>
<circle cx="682" cy="254.4" r="4" fill="#FF8C00" fill-opacity="0.17"/>
<circle cx="682" cy="254.6" r="4" fill="#FF8C00" fill-opacity="0.17"/>
<circle cx="682" cy="255.7" r="4" fill="#FF8C00" fill-opacity="0.17"/>
<circle cx="682" cy="256.5" r="4" fill="#FF8C00" fill-opacity="0.17"/>
<circle cx="682" cy="256.9" r="4" fill="#FF8C00" fill-opacity="0.17"/>
<circle cx="682" cy="256.9" r="4" fill="#FF8C00" fill-opacity="0.17"/>
<circle cx="682" cy="257.8" r="4" fill="#FF8C00" fill-opacity="0.17"/>
<circle cx="682" cy="258.0" r="4" fill="#FF8C00" fill-opacity="0.17"/>
<circle cx="682" cy="259.1" r="4" fill="#FF8C00" fill-opacity="0.17"/>
<circle cx="682" cy="259.4" r="4" fill="#FF8C00" fill-opacity="0.17"/>
<circle cx="682" cy="260.0" r="4" fill="#FF8C00" fill-opacity="0.17"/>
<circle cx="682" cy="266.3" r="4" fill="#FF8C00" fill-opacity="0.17"/>
<circle cx="682" cy="265.3" r="4" fill="#FF8C00" fill-opacity="0.17"/>
<circle cx="682" cy="271.2" r="4" fill="#FF8C00" fill-opacity="0.17"/>
<circle cx="682" cy="280.3" r="4" fill="#FF8C00" fill-opacity="0.17"/>
<circle cx="682" cy="281.1" r="4" fill="#FF8C00" fill-opacity="0.17"/>
<circle cx="682" cy="285.3" r="4" fill="#FF8C00" fill-opacity="0.17"/>
<circle cx="682" cy="289.7" r="4" fill="#FF8C00" fill-opacity="0.17"/>
<circle cx="682" cy="295.0" r="4" fill="#FF8C00" fill-opacity="0.17"/>
<circle cx="682" cy="195.3" r="4" fill="#FF8C00" fill-opacity="0.17"/>
<circle cx="682" cy="203.0" r="4" fill="#FF8C00" fill-opacity="0.17"/>
<circle cx="682" cy="299.0" r="4" fill="#FF8C00" fill-opacity="0.17"/>
<circle cx="682" cy="325.0" r="4" fill="#FF8C00" fill-opacity="0.17"/>
<circle cx="682" cy="334.4" r="4" fill="#FF8C00" fill-opacity="0.17"/>
<circle cx="699.8" cy="185.7" r="4" fill="#FF8C00" fill-opacity="0.17"/>
<circle cx="699.8" cy="186.7" r="4" fill="#FF8C00" fill-opacity="0.17"/>
<circle cx="699.8" cy="192.7" r="4" fill="#FF8C00" fill-opacity="0.17"/>
<circle cx="699.8" cy="193.8" r="4" fill="#FF8C00" fill-opacity="0.17"/>
<circle cx="699.8" cy="194.2" r="4" fill="#FF8C00" fill-opacity="0.17"/>
<circle cx="699.8" cy="202.0" r="4" fill="#FF8C00" fill-opacity="0.17"/>
<circle cx="699.8" cy="203.0" r="4" fill="#FF8C00" fill-opacity="0.17"/>
<circle cx="699.8" cy="204.1" r="4" fill="#FF8C00" fill-opacity="0.17"/>
<circle cx="699.8" cy="213.2" r="4" fill="#FF8C00" fill-opacity="0.17"/>
<circle cx="699.8" cy="210.8" r="4" fill="#FF8C00" fill-opacity="0.17"/>
<circle cx="699.8" cy="213.6" r="4" fill="#FF8C00" fill-opacity="0.17"/>
<circle cx="699.8" cy="214.0" r="4" fill="#FF8C00" fill-opacity="0.17"/>
<circle cx="699.8" cy="215.0" r="4" fill="#FF8C00" fill-opacity="0.17"/>
<circle cx="699.8" cy="215.1" r="4" fill="#FF8C00" fill-opacity="0.17"/>
<circle cx="699.8" cy="215.4" r="4" fill="#FF8C00" fill-opacity="0.17"/>
<circle cx="699.8" cy="216.1" r="4" fill="#FF8C00" fill-opacity="0.17"/>
<circle cx="699.8" cy="216.5" r="4" fill="#FF8C00" fill-opacity="0.17"/>
<circle cx="699.8" cy="217.5" r="4" fill="#FF8C00" fill-opacity="0.17"/>
<circle cx="699.8" cy="217.8" r="4" fill="#FF8C00" fill-opacity="0.17"/>
<circle cx="699.8" cy="218.8" r="4" fill="#FF8C00" fill-opacity="0.17"/>
<circle cx="699.8" cy="218.8" r="4" fill="#FF8C00" fill-opacity="0.17"/>
<circle cx="699.8" cy="219.5" r="4" fill="#FF8C00" fill-opacity="0.17"/>
<circle cx="699.8" cy="219.9" r="4" fill="#FF8C00" fill-opacity="0.17"/>
<circle cx="699.8" cy="221.2" r="4" fill="#FF8C00" fill-opacity="0.17"/>
<circle cx="699.8" cy="221.6" r="4" fill="#FF8C00" fill-opacity="0.17"/>
<circle cx="699.8" cy="222.2" r="4" fill="#FF8C00" fill-opacity="0.17"/>
<circle cx="699.8" cy="222.5" r="4" fill="#FF8C00" fill-opacity="0.17"/>
<circle cx="699.8" cy="222.8" r="4" fill="#FF8C00" fill-opacity="0.17"/>
<circle cx="699.8" cy="223.1" r="4" fill="#FF8C00" fill-opacity="0.17"/>
<circle cx="699.8" cy="224.4" r="4" fill="#FF8C00" fill-opacity="0.17"/>
<circle cx="699.8" cy="224.6" r="4" fill="#FF8C00" fill-opacity="0.17"/>
<circle cx="699.8" cy="224.7" r="4" fill="#FF8C00" fill-opacity="0.17"/>
<circle cx="699.8" cy="225.4" r="4" fill="#FF8C00" fill-opacity="0.17"/>
<circle cx="699.8" cy="225.9" r="4" fill="#FF8C00" fill-opacity="0.17"/>
<circle cx="699.8" cy="227.1" r="4" fill="#FF8C00" fill-opacity="0.17"/>
<circle cx="699.8" cy="227.8" r="4" fill="#FF8C00" fill-opacity="0.17"/>
<circle cx="699.8" cy="227.6" r="4" fill="#FF8C00" fill-opacity="0.17"/>
<circle cx="699.8" cy="228.8" r="4" fill="#FF8C00" fill-opacity="0.17"/>
<circle cx="699.8" cy="228.9" r="4" fill="#FF8C00" fill-opacity="0.17"/>
<circle cx="699.8" cy="229.8" r="4" fill="#FF8C00" fill-opacity="0.17"/>
<circle cx="699.8" cy="230.5" r="4" fill="#FF8C00" fill-opacity="0.17"/>
<circle cx="699.8" cy="230.8" r="4" fill="#FF8C00" fill-opacity="0.17"/>
<circle cx="699.8" cy="231.6" r="4" fill="#FF8C00" fill-opacity="0.17"/>
<circle cx="699.8" cy="231.7" r="4" fill="#FF8C00" fill-opacity="0.17"/>
<circle cx="699.8" cy="231.9" r="4" fill="#FF8C00" fill-opacity="0.17"/>
<circle cx="699.8" cy="233.0" r="4" fill="#FF8C00" fill-opacity="0.17"/>
<circle cx="699.8" cy="233.6" r="4" fill="#FF8C00" fill-opacity="0.17"/>
<circle cx="699.8" cy="233.7" r="4" fill="#FF8C00" fill-opacity="0.17"/>
<circle cx="699.8" cy="234.5" r="4" fill="#FF8C00" fill-opacity="0.17"/>
<circle cx="699.8" cy="235.0" r="4" fill="#FF8C00" fill-opacity="0.17"/>
<circle cx="699.8" cy="235.2" r="4" fill="#FF8C00" fill-opacity="0.17"/>
<circle cx="699.8" cy="236.1" r="4" fill="#FF8C00" fill-opacity="0.17"/>
<circle cx="699.8" cy="236.7" r="4" fill="#FF8C00" fill-opacity="0.17"/>
<circle cx="699.8" cy="237.4" r="4" fill="#FF8C00" fill-opacity="0.17"/>
<circle cx="699.8" cy="238.1" r="4" fill="#FF8C00" fill-opacity="0.17"/>
<circle cx="699.8" cy="238.4" r="4" fill="#FF8C00" fill-opacity="0.17"/>
<circle cx="699.8" cy="239.5" r="4" fill="#FF8C00" fill-opacity="0.17"/>
<circle cx="699.8" cy="239.9" r="4" fill="#FF8C00" fill-opacity="0.17"/>
<circle cx="699.8" cy="240.6" r="4" fill="#FF8C00" fill-opacity="0.17"/>
<circle cx="699.8" cy="240.9" r="4" fill="#FF8C00" fill-opacity="0.17"/>
<circle cx="699.8" cy="241.4" r="4" fill="#FF8C00" fill-opacity="0.17"/>
<circle cx="699.8" cy="241.9" r="4" fill="#FF8C00" fill-opacity="0.17"/>
<circle cx="699.8" cy="242.7" r="4" fill="#FF8C00" fill-opacity="0.17"/>
<circle cx="699.8" cy="242.8" r="4" fill="#FF8C00" fill-opacity="0.17"/>
<circle cx="699.8" cy="243.6" r="4" fill="#FF8C00" fill-opacity="0.17"/>
<circle cx="699.8" cy="244.2" r="4" fill="#FF8C00" fill-opacity="0.17"/>
<circle cx="699.8" cy="244.6" r="4" fill="#FF8C00" fill-opacity="0.17"/>
<circle cx="699.8" cy="245.0" r="4" fill="#FF8C00" fill-opacity="0.17"/>
<circle cx="699.8" cy="245.3" r="4" fill="#FF8C00" fill-opacity="0.17"/>
<circle cx="699.8" cy="245.9" r="4" fill="#FF8C00" fill-opacity="0.17"/>
<circle cx="699.8" cy="246.7" r="4" fill="#FF8C00" fill-opacity="0.17"/>
<circle cx="699.8" cy="247.5" r="4" fill="#FF8C00" fill-opacity="0.17"/>
<circle cx="699.8" cy="248.2" r="4" fill="#FF8C00" fill-opacity="0.17"/>
<circle cx="699.8" cy="248.7" r="4" fill="#FF8C00" fill-opacity="0.17"/>
<circle cx="699.8" cy="248.9" r="4" fill="#FF8C00" fill-opacity="0.17"/>
<circle cx="699.8" cy="250.0" r="4" fill="#FF8C00" fill-opacity="0.17"/>
<circle cx="699.8" cy="249.9" r="4" fill="#FF8C00" fill-opacity="0.17"/>
<circle cx="699.8" cy="250.9" r="4" fill="#FF8C00" fill-opacity="0.17"/>
<circle cx="699.8" cy="250.8" r="4" fill="#FF8C00" fill-opacity="0.17"/>
<circle cx="699.8" cy="252.1" r="4" fill="#FF8C00" fill-opacity="0.17"/>
<circle cx="699.8" cy="252.6" r="4" fill="#FF8C00" fill-opacity="0.17"/>
<circle cx="699.8" cy="253.4" r="4" fill="#FF8C00" fill-opacity="0.17"/>
<circle cx="699.8" cy="253.9" r="4" fill="#FF8C00" fill-opacity="0.17"/>
<circle cx="699.8" cy="254.2" r="4" fill="#FF8C00" fill-opacity="0.17"/>
<circle cx="699.8" cy="254.9" r="4" fill="#FF8C00" fill-opacity="0.17"/>
<circle cx="699.8" cy="255.4" r="4" fill="#FF8C00" fill-opacity="0.17"/>
<circle cx="699.8" cy="255.8" r="4" fill="#FF8C00" fill-opacity="0.17"/>
<circle cx="699.8" cy="256.0" r="4" fill="#FF8C00" fill-opacity="0.17"/>
<circle cx="699.8" cy="256.9" r="4" fill="#FF8C00" fill-opacity="0.17"/>
<circle cx="699.8" cy="257.8" r="4" fill="#FF8C00" fill-opacity="0.17"/>
<circle cx="699.8" cy="257.7" r="4" fill="#FF8C00" fill-opacity="0.17"/>
<circle cx="699.8" cy="259.0" r="4" fill="#FF8C00" fill-opacity="0.17"/>
<circle cx="699.8" cy="259.1" r="4" fill="#FF8C00" fill-opacity="0.17"/>
<circle cx="699.8" cy="259.5" r="4" fill="#FF8C00" fill-opacity="0.17"/>
<circle cx="699.8" cy="259.7" r="4" fill="#FF8C00" fill-opacity="0.17"/>
<circle cx="699.8" cy="260.6" r="4" fill="#FF8C00" fill-opacity="0.17"/>
<circle cx="699.8" cy="261.0" r="4" fill="#FF8C00" fill-opacity="0.17"/>
<circle cx="699.8" cy="262.0" r="4" fill="#FF8C00" fill-opacity="0.17"/>
<circle cx="699.8" cy="262.8" r="4" fill="#FF8C00" fill-opacity="0.17"/>
<circle cx="699.8" cy="263.0" r="4" fill="#FF8C00" fill-opacity="0.17"/>
<circle cx="699.8" cy="267.1" r="4" fill="#FF8C00" fill-opacity="0.17"/>
<circle cx="699.8" cy="269.3" r="4" fill="#FF8C00" fill-opacity="0.17"/>
<circle cx="699.8" cy="271.1" r="4" fill="#FF8C00" fill-opacity="0.17"/>
<circle cx="699.8" cy="278.7" r="4" fill="#FF8C00" fill-opacity="0.17"/>
<circle cx="699.8" cy="281.5" r="4" fill="#FF8C00" fill-opacity="0.17"/>
<circle cx="699.8" cy="286.3" r="4" fill="#FF8C00" fill-opacity="0.17"/>
<circle cx="699.8" cy="287.7" r="4" fill="#FF8C00" fill-opacity="0.17"/>
<circle cx="699.8" cy="294.8" r="4" fill="#FF8C00" fill-opacity="0.17"/>
<circle cx="699.8" cy="294.0" r="4" fill="#FF8C00" fill-opacity="0.17"/>
<circle cx="699.8" cy="298.3" r="4" fill="#FF8C00" fill-opacity="0.17"/>
<circle cx="699.8" cy="139.2" r="4" fill="#FF8C00" fill-opacity="0.17"/>
<circle cx="699.8" cy="309.4" r="4" fill="#FF8C00" fill-opacity="0.17"/>
<circle cx="717" cy="74.0" r="4" fill="#8AD5D4" fill-opacity="0.2"/>
<circle cx="717" cy="105.6" r="4" fill="#8AD5D4" fill-opacity="0.2"/>
<circle cx="717" cy="112.6" r="4" fill="#8AD5D4" fill-opacity="0.2"/>
<circle cx="717" cy="112.6" r="4" fill="#8AD5D4" fill-opacity="0.2"/>
<circle cx="717" cy="139.2" r="4" fill="#8AD5D4" fill-opacity="0.2"/>
<circle cx="717" cy="154.0" r="4" fill="#8AD5D4" fill-opacity="0.2"/>
<circle cx="717" cy="160.3" r="4" fill="#8AD5D4" fill-opacity="0.2"/>
<circle cx="717" cy="169.5" r="4" fill="#8AD5D4" fill-opacity="0.2"/>
<circle cx="717" cy="174.3" r="4" fill="#8AD5D4" fill-opacity="0.2"/>
<circle cx="717" cy="289.0" r="4" fill="#8AD5D4" fill-opacity="0.2"/>
<circle cx="717" cy="298.6" r="4" fill="#8AD5D4" fill-opacity="0.2"/>
<circle cx="717" cy="305.0" r="4" fill="#8AD5D4" fill-opacity="0.2"/>
<circle cx="717" cy="314.4" r="4" fill="#8AD5D4" fill-opacity="0.2"/>
<circle cx="717" cy="327.3" r="4" fill="#8AD5D4" fill-opacity="0.2"/>
<circle cx="717" cy="165.3" r="4" fill="#8AD5D4" fill-opacity="0.2"/>
<circle cx="717" cy="169.8" r="4" fill="#8AD5D4" fill-opacity="0.2"/>
<circle cx="717" cy="173.9" r="4" fill="#8AD5D4" fill-opacity="0.2"/>
<circle cx="717" cy="173.1" r="4" fill="#8AD5D4" fill-opacity="0.2"/>
<circle cx="717" cy="178.1" r="4" fill="#8AD5D4" fill-opacity="0.2"/>
<circle cx="717" cy="181.5" r="4" fill="#8AD5D4" fill-opacity="0.2"/>
<circle cx="717" cy="181.6" r="4" fill="#8AD5D4" fill-opacity="0.2"/>
<circle cx="717" cy="183.6" r="4" fill="#8AD5D4" fill-opacity="0.2"/>
<circle cx="717" cy="186.7" r="4" fill="#8AD5D4" fill-opacity="0.2"/>
<circle cx="717" cy="187.6" r="4" fill="#8AD5D4" fill-opacity="0.2"/>
<circle cx="717" cy="188.4" r="4" fill="#8AD5D4" fill-opacity="0.2"/>
<circle cx="717" cy="188.8" r="4" fill="#8AD5D4" fill-opacity="0.2"/>
<circle cx="717" cy="189.1" r="4" fill="#8AD5D4" fill-opacity="0.2"/>
<circle cx="717" cy="189.8" r="4" fill="#8AD5D4" fill-opacity="0.2"/>
<circle cx="717" cy="190.6" r="4" fill="#8AD5D4" fill-opacity="0.2"/>
<circle cx="717" cy="191.7" r="4" fill="#8AD5D4" fill-opacity="0.2"/>
<circle cx="717" cy="191.6" r="4" fill="#8AD5D4" fill-opacity="0.2"/>
<circle cx="717" cy="192.2" r="4" fill="#8AD5D4" fill-opacity="0.2"/>
<circle cx="717" cy="193.3" r="4" fill="#8AD5D4" fill-opacity="0.2"/>
<circle cx="717" cy="194.4" r="4" fill="#8AD5D4" fill-opacity="0.2"/>
<circle cx="717" cy="194.1" r="4" fill="#8AD5D4" fill-opacity="0.2"/>
<circle cx="717" cy="194.6" r="4" fill="#8AD5D4" fill-opacity="0.2"/>
<circle cx="717" cy="195.3" r="4" fill="#8AD5D4" fill-opacity="0.2"/>
<circle cx="717" cy="196.5" r="4" fill="#8AD5D4" fill-opacity="0.2"/>
<circle cx="717" cy="197.2" r="4" fill="#8AD5D4" fill-opacity="0.2"/>
<circle cx="717" cy="197.4" r="4" fill="#8AD5D4" fill-opacity="0.2"/>
<circle cx="717" cy="198.1" r="4" fill="#8AD5D4" fill-opacity="0.2"/>
<circle cx="717" cy="199.2" r="4" fill="#8AD5D4" fill-opacity="0.2"/>
<circle cx="717" cy="199.9" r="4" fill="#8AD5D4" fill-opacity="0.2"/>
<circle cx="717" cy="200.6" r="4" fill="#8AD5D4" fill-opacity="0.2"/>
<circle cx="717" cy="201.3" r="4" fill="#8AD5D4" fill-opacity="0.2"/>
<circle cx="717" cy="201.2" r="4" fill="#8AD5D4" fill-opacity="0.2"/>
<circle cx="717" cy="202.3" r="4" fill="#8AD5D4" fill-opacity="0.2"/>
<circle cx="717" cy="203.4" r="4" fill="#8AD5D4" fill-opacity="0.2"/>
<circle cx="717" cy="204.2" r="4" fill="#8AD5D4" fill-opacity="0.2"/>
<circle cx="717" cy="204.1" r="4" fill="#8AD5D4" fill-opacity="0.2"/>
<circle cx="717" cy="205.4" r="4" fill="#8AD5D4" fill-opacity="0.2"/>
<circle cx="717" cy="205.8" r="4" fill="#8AD5D4" fill-opacity="0.2"/>
<circle cx="717" cy="206.8" r="4" fill="#8AD5D4" fill-opacity="0.2"/>
<circle cx="717" cy="206.6" r="4" fill="#8AD5D4" fill-opacity="0.2"/>
<circle cx="717" cy="207.9" r="4" fill="#8AD5D4" fill-opacity="0.2"/>
<circle cx="717" cy="208.7" r="4" fill="#8AD5D4" fill-opacity="0.2"/>
<circle cx="717" cy="208.9" r="4" fill="#8AD5D4" fill-opacity="0.2"/>
<circle cx="717" cy="209.1" r="4" fill="#8AD5D4" fill-opacity="0.2"/>
<circle cx="717" cy="209.9" r="4" fill="#8AD5D4" fill-opacity="0.2"/>
<circle cx="717" cy="210.5" r="4" fill="#8AD5D4" fill-opacity="0.2"/>
<circle cx="717" cy="211.1" r="4" fill="#8AD5D4" fill-opacity="0.2"/>
<circle cx="717" cy="211.8" r="4" fill="#8AD5D4" fill-opacity="0.2"/>
<circle cx="717" cy="213.0" r="4" fill="#8AD5D4" fill-opacity="0.2"/>
<circle cx="717" cy="213.1" r="4" fill="#8AD5D4" fill-opacity="0.2"/>
<circle cx="717" cy="214.5" r="4" fill="#8AD5D4" fill-opacity="0.2"/>
<circle cx="717" cy="215.1" r="4" fill="#8AD5D4" fill-opacity="0.2"/>
<circle cx="717" cy="215.9" r="4" fill="#8AD5D4" fill-opacity="0.2"/>
<circle cx="717" cy="216.5" r="4" fill="#8AD5D4" fill-opacity="0.2"/>
<circle cx="717" cy="217.1" r="4" fill="#8AD5D4" fill-opacity="0.2"/>
<circle cx="717" cy="218.0" r="4" fill="#8AD5D4" fill-opacity="0.2"/>
<circle cx="717" cy="218.7" r="4" fill="#8AD5D4" fill-opacity="0.2"/>
<circle cx="717" cy="218.9" r="4" fill="#8AD5D4" fill-opacity="0.2"/>
<circle cx="717" cy="220.0" r="4" fill="#8AD5D4" fill-opacity="0.2"/>
<circle cx="717" cy="219.6" r="4" fill="#8AD5D4" fill-opacity="0.2"/>
<circle cx="717" cy="220.3" r="4" fill="#8AD5D4" fill-opacity="0.2"/>
<circle cx="717" cy="220.9" r="4" fill="#8AD5D4" fill-opacity="0.2"/>
<circle cx="717" cy="221.7" r="4" fill="#8AD5D4" fill-opacity="0.2"/>
<circle cx="717" cy="222.6" r="4" fill="#8AD5D4" fill-opacity="0.2"/>
<circle cx="717" cy="223.3" r="4" fill="#8AD5D4" fill-opacity="0.2"/>
<circle cx="717" cy="224.3" r="4" fill="#8AD5D4" fill-opacity="0.2"/>
<circle cx="717" cy="225.0" r="4" fill="#8AD5D4" fill-opacity="0.2"/>
<circle cx="717" cy="224.9" r="4" fill="#8AD5D4" fill-opacity="0.2"/>
<circle cx="717" cy="225.9" r="4" fill="#8AD5D4" fill-opacity="0.2"/>
<circle cx="717" cy="226.7" r="4" fill="#8AD5D4" fill-opacity="0.2"/>
<circle cx="717" cy="227.2" r="4" fill="#8AD5D4" fill-opacity="0.2"/>
<circle cx="717" cy="227.5" r="4" fill="#8AD5D4" fill-opacity="0.2"/>
<circle cx="717" cy="228.8" r="4" fill="#8AD5D4" fill-opacity="0.2"/>
<circle cx="717" cy="229.2" r="4" fill="#8AD5D4" fill-opacity="0.2"/>
<circle cx="717" cy="230.2" r="4" fill="#8AD5D4" fill-opacity="0.2"/>
<circle cx="717" cy="230.6" r="4" fill="#8AD5D4" fill-opacity="0.2"/>
<circle cx="717" cy="231.8" r="4" fill="#8AD5D4" fill-opacity="0.2"/>
<circle cx="717" cy="232.5" r="4" fill="#8AD5D4" fill-opacity="0.2"/>
<circle cx="717" cy="232.1" r="4" fill="#8AD5D4" fill-opacity="0.2"/>
<circle cx="717" cy="233.6" r="4" fill="#8AD5D4" fill-opacity="0.2"/>
<circle cx="717" cy="234.2" r="4" fill="#8AD5D4" fill-opacity="0.2"/>
<circle cx="717" cy="234.3" r="4" fill="#8AD5D4" fill-opacity="0.2"/>
<circle cx="717" cy="234.8" r="4" fill="#8AD5D4" fill-opacity="0.2"/>
<circle cx="717" cy="235.9" r="4" fill="#8AD5D4" fill-opacity="0.2"/>
<circle cx="717" cy="236.4" r="4" fill="#8AD5D4" fill-opacity="0.2"/>
<circle cx="717" cy="237.5" r="4" fill="#8AD5D4" fill-opacity="0.2"/>
<circle cx="717" cy="238.3" r="4" fill="#8AD5D4" fill-opacity="0.2"/>
<circle cx="717" cy="238.4" r="4" fill="#8AD5D4" fill-opacity="0.2"/>
<circle cx="717" cy="238.9" r="4" fill="#8AD5D4" fill-opacity="0.2"/>
<circle cx="717" cy="239.8" r="4" fill="#8AD5D4" fill-opacity="0.2"/>
<circle cx="717" cy="240.7" r="4" fill="#8AD5D4" fill-opacity="0.2"/>
<circle cx="717" cy="241.5" r="4" fill="#8AD5D4" fill-opacity="0.2"/>
<circle cx="717" cy="241.9" r="4" fill="#8AD5D4" fill-opacity="0.2"/>
<circle cx="717" cy="242.2" r="4" fill="#8AD5D4" fill-opacity="0.2"/>
<circle cx="717" cy="242.9" r="4" fill="#8AD5D4" fill-opacity="0.2"/>
<circle cx="717" cy="244.2" r="4" fill="#8AD5D4" fill-opacity="0.2"/>
<circle cx="717" cy="244.4" r="4" fill="#8AD5D4" fill-opacity="0.2"/>
<circle cx="717" cy="244.5" r="4" fill="#8AD5D4" fill-opacity="0.2"/>
<circle cx="717" cy="245.6" r="4" fill="#8AD5D4" fill-opacity="0.2"/>
<circle cx="717" cy="246.1" r="4" fill="#8AD5D4" fill-opacity="0.2"/>
<circle cx="717" cy="247.2" r="4" fill="#8AD5D4" fill-opacity="0.2"/>
<circle cx="717" cy="247.2" r="4" fill="#8AD5D4" fill-opacity="0.2"/>
<circle cx="717" cy="248.1" r="4" fill="#8AD5D4" fill-opacity="0.2"/>
<circle cx="717" cy="248.5" r="4" fill="#8AD5D4" fill-opacity="0.2"/>
<circle cx="717" cy="249.7" r="4" fill="#8AD5D4" fill-opacity="0.2"/>
<circle cx="717" cy="250.9" r="4" fill="#8AD5D4" fill-opacity="0.2"/>
<circle cx="717" cy="251.0" r="4" fill="#8AD5D4" fill-opacity="0.2"/>
<circle cx="717" cy="251.5" r="4" fill="#8AD5D4" fill-opacity="0.2"/>
<circle cx="717" cy="252.8" r="4" fill="#8AD5D4" fill-opacity="0.2"/>
<circle cx="717" cy="252.5" r="4" fill="#8AD5D4" fill-opacity="0.2"/>
<circle cx="717" cy="253.4" r="4" fill="#8AD5D4" fill-opacity="0.2"/>
<circle cx="717" cy="254.6" r="4" fill="#8AD5D4" fill-opacity="0.2"/>
<circle cx="717" cy="254.3" r="4" fill="#8AD5D4" fill-opacity="0.2"/>
<circle cx="717" cy="255.9" r="4" fill="#8AD5D4" fill-opacity="0.2"/>
<circle cx="717" cy="256.1" r="4" fill="#8AD5D4" fill-opacity="0.2"/>
<circle cx="717" cy="256.3" r="4" fill="#8AD5D4" fill-opacity="0.2"/>
<circle cx="717" cy="257.3" r="4" fill="#8AD5D4" fill-opacity="0.2"/>
<circle cx="717" cy="258.2" r="4" fill="#8AD5D4" fill-opacity="0.2"/>
<circle cx="717" cy="258.7" r="4" fill="#8AD5D4" fill-opacity="0.2"/>
<circle cx="717" cy="259.6" r="4" fill="#8AD5D4" fill-opacity="0.2"/>
<circle cx="717" cy="259.7" r="4" fill="#8AD5D4" fill-opacity="0.2"/>
<circle cx="717" cy="260.5" r="4" fill="#8AD5D4" fill-opacity="0.2"/>
<circle cx="717" cy="262.1" r="4" fill="#8AD5D4" fill-opacity="0.2"/>
<circle cx="717" cy="262.1" r="4" fill="#8AD5D4" fill-opacity="0.2"/>
<circle cx="717" cy="262.8" r="4" fill="#8AD5D4" fill-opacity="0.2"/>
<circle cx="717" cy="263.0" r="4" fill="#8AD5D4" fill-opacity="0.2"/>
<circle cx="717" cy="263.9" r="4" fill="#8AD5D4" fill-opacity="0.2"/>
<circle cx="717" cy="265.3" r="4" fill="#8AD5D4" fill-opacity="0.2"/>
<circle cx="717" cy="265.7" r="4" fill="#8AD5D4" fill-opacity="0.2"/>
<circle cx="717" cy="266.1" r="4" fill="#8AD5D4" fill-opacity="0.2"/>
<circle cx="717" cy="266.2" r="4" fill="#8AD5D4" fill-opacity="0.2"/>
<circle cx="717" cy="267.3" r="4" fill="#8AD5D4" fill-opacity="0.2"/>
<circle cx="717" cy="268.4" r="4" fill="#8AD5D4" fill-opacity="0.2"/>
<circle cx="717" cy="268.7" r="4" fill="#8AD5D4" fill-opacity="0.2"/>
<circle cx="717" cy="269.5" r="4" fill="#8AD5D4" fill-opacity="0.2"/>
<circle cx="717" cy="270.5" r="4" fill="#8AD5D4" fill-opacity="0.2"/>
<circle cx="717" cy="270.9" r="4" fill="#8AD5D4" fill-opacity="0.2"/>
<circle cx="717" cy="271.5" r="4" fill="#8AD5D4" fill-opacity="0.2"/>
<circle cx="717" cy="271.5" r="4" fill="#8AD5D4" fill-opacity="0.2"/>
<circle cx="717" cy="272.1" r="4" fill="#8AD5D4" fill-opacity="0.2"/>
<circle cx="717" cy="273.7" r="4" fill="#8AD5D4" fill-opacity="0.2"/>
<circle cx="717" cy="273.9" r="4" fill="#8AD5D4" fill-opacity="0.2"/>
<circle cx="717" cy="275.1" r="4" fill="#8AD5D4" fill-opacity="0.2"/>
<circle cx="717" cy="275.7" r="4" fill="#8AD5D4" fill-opacity="0.2"/>
<circle cx="717" cy="276.5" r="4" fill="#8AD5D4" fill-opacity="0.2"/>
<circle cx="717" cy="276.5" r="4" fill="#8AD5D4" fill-opacity="0.2"/>
<circle cx="717" cy="277.9" r="4" fill="#8AD5D4" fill-opacity="0.2"/>
<circle cx="717" cy="278.0" r="4" fill="#8AD5D4" fill-opacity="0.2"/>
<circle cx="717" cy="282.5" r="4" fill="#8AD5D4" fill-opacity="0.2"/>
<circle cx="717" cy="281.6" r="4" fill="#8AD5D4" fill-opacity="0.2"/>
<circle cx="717" cy="287.6" r="4" fill="#8AD5D4" fill-opacity="0.2"/>
<circle cx="717" cy="288.7" r="4" fill="#8AD5D4" fill-opacity="0.2"/>
<circle cx="717" cy="294.3" r="4" fill="#8AD5D4" fill-opacity="0.2"/>
<circle cx="717" cy="295.0" r="4" fill="#8AD5D4" fill-opacity="0.2"/>
<line x1="709.3" y1="54.3" x2="709.3" y2="413.5" stroke="#8FD6D6" stroke-width="0.8" stroke-dasharray="1,1.5"/>
<text x="523" y="60.7" font-size="7" fill="#6886A6" textLength="79.8" lengthAdjust="spacingAndGlyphs" >Points per Game in Bubble</text>
<text x="524.9" y="72.5" font-size="7" fill="#6886A6" textLength="13.4" lengthAdjust="spacingAndGlyphs" >2.00</text>
<text x="620" y="72.5" font-size="7" fill="#6886A6" textLength="17.8" lengthAdjust="spacingAndGlyphs" text-anchor="end" >37.63</text>
<rect x="535" y="80.5" width="80.4" height="1.6" fill="#C4C4C4"/>
<path d="M535 77.6 L532.8 77.6 A2.8 3.8 0 0 0 532.8 85.2 L535 85.2 Z" fill="#fff" stroke="#9a9a9a" stroke-width="0.9"/>
<path d="M615.4 77.6 L617.6 77.6 A2.8 3.8 0 0 1 617.6 85.2 L615.4 85.2 Z" fill="#fff" stroke="#9a9a9a" stroke-width="0.9"/>
<text x="527" y="425.8" font-size="7.3" fill="#5E7FA3" text-anchor="middle" >'10</text>
<text x="544" y="425.8" font-size="7.3" fill="#5E7FA3" text-anchor="middle" >'11</text>
<text x="561.2" y="425.8" font-size="7.3" fill="#5E7FA3" text-anchor="middle" >'12</text>
<text x="578.8" y="425.8" font-size="7.3" fill="#5E7FA3" text-anchor="middle" >'13</text>
<text x="596.2" y="425.8" font-size="7.3" fill="#5E7FA3" text-anchor="middle" >'14</text>
<text x="613.2" y="425.8" font-size="7.3" fill="#5E7FA3" text-anchor="middle" >'15</text>
<text x="630.4" y="425.8" font-size="7.3" fill="#5E7FA3" text-anchor="middle" >'16</text>
<text x="647.8" y="425.8" font-size="7.3" fill="#5E7FA3" text-anchor="middle" >'17</text>
<text x="665" y="425.8" font-size="7.3" fill="#5E7FA3" text-anchor="middle" >'18</text>
<text x="682" y="425.8" font-size="7.3" fill="#5E7FA3" text-anchor="middle" >'19</text>
<text x="699.8" y="425.8" font-size="7.3" fill="#5E7FA3" text-anchor="middle" >'20</text>
<text x="717" y="425.8" font-size="7.3" fill="#5E7FA3" textLength="20" lengthAdjust="spacingAndGlyphs" text-anchor="middle" >Bubble</text>
<rect x="525" y="392.3" width="15" height="6.2" rx="3.1" fill="#C9C9C9"/>
<circle cx="528.1" cy="395.4" r="3" fill="#fff" stroke="#e0e0e0" stroke-width="0.5"/>
<text x="541.4" y="394.6" font-size="6" fill="#5E7FA3" textLength="44.6" lengthAdjust="spacingAndGlyphs" >Toggle Group TS%</text>
<text x="541.4" y="402.8" font-size="6" fill="#5E7FA3" textLength="20" lengthAdjust="spacingAndGlyphs" >Average</text>
<text x="485.2" y="452.6" font-size="7.8" fill="#ABABAB" textLength="247.5" lengthAdjust="spacingAndGlyphs" >Designed by: @jrcopreros | Data source: basketballreference.com | Icons: The Noun Project</text>
</svg>
</body></html>
